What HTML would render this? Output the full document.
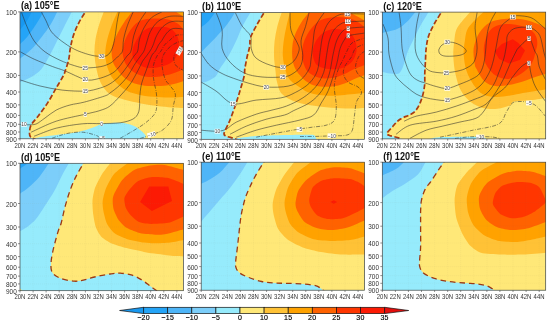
<!DOCTYPE html>
<html lang="en"><head><meta charset="utf-8"><title>Latitude-pressure cross sections</title>
<style>
html,body{margin:0;padding:0;background:#fff;}
body{width:550px;height:324px;overflow:hidden;}
svg{display:block;font-family:"Liberation Sans","DejaVu Sans",sans-serif;fill:#333;}
</style></head><body>
<svg width="550" height="324" viewBox="0 0 550 324">
<rect width="550" height="324" fill="#fff"/>
<clipPath id="cp0"><rect x="20" y="11.9" width="163.4" height="126.9"/></clipPath>
<g clip-path="url(#cp0)">
<rect x="19" y="10.9" width="165.4" height="128.9" fill="#96ebfc"/>
<path d="M74.3 6.9C73.9 7.8 73.3 8.9 71.6 12.2C69.9 15.5 66.7 21.6 64.3 26.4C61.9 31.2 59.4 36.1 57 41C54.6 45.9 52.3 50.8 49.7 55.5C47.1 60.2 44.3 65.6 41.5 69C38.7 72.4 35.8 74.2 33 76C30.2 77.8 27.1 79 25 80C22.9 81 22.1 81.3 20.4 82C18.7 82.7 15.8 84 14.9 84.4L8 84.4L8 -0.1L71.6 -0.1Z" fill="#7ccefa"/>
<path d="M59.8 6.9C59.3 7.8 58.5 9.2 57 12.2C55.5 15.2 53.2 20.4 50.6 24.6C48 28.8 44.7 33.2 41.5 37.3C38.3 41.4 35 45.7 31.5 49.2C28 52.7 23.1 56.1 20.5 58.3C17.9 60.5 16.6 61.5 15.9 62.1L8 62.1L8 -0.1L57 -0.1Z" fill="#4eb5f8"/>
<path d="M46.3 7C45.8 7.9 45 9.3 43.3 12.2C41.6 15.1 38.7 20.4 36 24.6C33.3 28.8 29.5 34.1 26.9 37.3C24.3 40.5 22.3 41.9 20.5 43.7C18.7 45.5 17 47.2 16.3 47.9L8 47.9L8 -0.1L43.3 -0.1Z" fill="#24a4f7"/>
<path d="M34.3 6.9C33.8 7.8 32.7 9.9 31.5 12.2C30.3 14.5 28.7 18.1 26.9 20.9C25.1 23.7 22.2 26.9 20.5 29.1C18.8 31.3 17.4 33 16.8 33.8L8 33.8L8 -0.1L31.5 -0.1Z" fill="#1898f0"/>
<path d="M88.3 7.1C87.8 7.9 86.8 9.6 85.2 12.2C83.6 14.8 80.8 18.9 78.8 22.8C76.8 26.7 74.8 31.2 73.4 35.5C72 39.8 71.1 44.3 70.3 48.3C69.5 52.2 69.6 55.4 68.8 59.2C68 63 66.1 68.2 65.2 71C64.3 73.8 64.7 73.2 63.2 76C61.7 78.8 58.7 83.7 56.2 88C53.7 92.3 51.1 97.4 48.1 102.1C45.1 106.8 41 112.3 38.1 116.2C35.2 120.1 32.4 122.4 31 125.2C29.6 128 29.6 131.3 29.5 133.2C29.4 135.1 29.9 136 30.5 136.8C31.1 137.6 30.4 138.3 33 138.2C35.6 138.1 41.5 136.9 46 136.3C50.5 135.7 54.6 135.3 60 134.6C65.4 133.9 73 132.9 78.2 131.9C83.4 130.9 87 129.6 91 128.3C95 127 97.1 125.1 101.9 124.2C106.8 123.3 114.9 122.6 120.1 122.8C125.3 123 129.6 124.3 132.9 125.5C136.2 126.7 138 128.4 140.1 130.1C142.2 131.8 144.9 134.1 145.6 135.5C146.3 136.9 144.9 136.9 144.2 138.3C143.5 139.7 142 142.8 141.5 143.7L141.5 150.8L195.4 150.8L195.4 -0.1L85.2 -0.1Z" fill="#ffe878"/>
<path d="M105.7 6.4C105.4 7.3 104.8 8.9 103.7 12C102.6 15.1 100.5 20.2 99.1 24.8C97.7 29.4 96.3 34.4 95.5 39.3C94.7 44.2 94.3 49.1 94.5 54C94.7 58.9 95.3 63.9 96.4 68.8C97.5 73.7 98.6 79 100.9 83.3C103.2 87.5 106 91.6 110 94.3C114 97 119.4 98.2 124.6 99.7C129.8 101.2 135.5 102.3 141 103.4C146.5 104.5 152.2 105.4 157.4 106.1C162.6 106.8 167.6 107.2 172 107.5C176.4 107.8 180.8 107.9 183.8 108C186.8 108.1 188.8 108.2 189.8 108.3L195.4 108.3L195.4 -0.1L103.7 -0.1Z" fill="#ffc236"/>
<path d="M119.6 6.5C119.2 7.4 118.6 8.9 117.3 12C116 15.1 113.6 20.2 111.9 24.8C110.2 29.4 108.4 34.6 107.3 39.3C106.2 44 105.3 48.4 105.3 53C105.3 57.6 105.9 62.5 107.3 66.9C108.7 71.4 110.5 75.8 113.7 79.7C116.9 83.7 121.9 88 126.4 90.6C131 93.2 135.8 94.1 141 95.2C146.2 96.3 152.2 96.6 157.4 97C162.6 97.4 167.6 97.5 172 97.5C176.4 97.5 180.8 97.1 183.8 97C186.8 96.9 188.8 96.8 189.8 96.7L195.4 96.7L195.4 -0.1L117.3 -0.1Z" fill="#ffa200"/>
<path d="M135.5 7.2C134.9 8 133.9 9.4 131.9 12C129.9 14.6 126.3 18.9 123.7 22.9C121.1 26.8 118.4 31.5 116.4 35.7C114.4 40 112.6 44.4 111.9 48.4C111.2 52.4 111.9 56.9 112.5 60C113.1 63.1 113.5 64 115.5 67C117.5 70 120.9 75 124.6 77.9C128.2 80.8 132.8 82.8 137.4 84.2C142 85.6 147.1 85.9 151.9 86.1C156.8 86.3 162.5 85.9 166.5 85.5C170.5 85.1 173.1 84.2 176 83.5C178.9 82.8 181.5 81.7 183.8 81C186.1 80.3 188.6 79.5 189.5 79.2L195.4 79.2L195.4 -0.1L131.9 -0.1Z" fill="#ff6200"/>
<polygon points="175.5,2 176.5,12.3 180.5,14.8 184.5,17.2 196,18 196,2" fill="#ffa200"/>
<path d="M188 34.3C187.3 33.6 185.5 31.8 183.8 30C182.1 28.2 180.2 25.4 177.6 23.6C175 21.8 172 20.2 168 19.4C164 18.5 158.2 18.3 153.6 18.5C149 18.7 144 19.2 140.4 20.8C136.8 22.4 134.4 25.1 132 28C129.6 30.9 127.5 34.8 126 38C124.5 41.2 123.7 44.2 123.2 47C122.7 49.8 122.3 51.5 122.8 54.5C123.3 57.5 124.3 62 126.4 65.1C128.5 68.2 131.8 71.3 135.5 73.3C139.2 75.3 143.7 76.5 148.3 76.9C152.9 77.4 158.4 76.7 162.9 76C167.4 75.3 172.1 73.7 175.6 72.5C179.1 71.3 181.5 70 183.8 69C186.1 68 188.4 67 189.3 66.6L195.4 66.6L195.4 24Z" fill="#ff3600"/>
<path d="M159.5 26.8C156.4 27 151 27.3 148 28.3C145 29.3 143.4 31.1 141.5 33C139.6 35 137.9 37.5 136.5 40C135.1 42.5 133.6 45.2 133 48C132.4 50.8 132.1 54.5 132.8 57C133.5 59.5 135.1 61.5 137.4 63.3C139.7 65.1 142.9 67.2 146.5 67.8C150.1 68.4 155.3 67.7 159.2 66.9C163.1 66.2 167.3 65 170.1 63.3C172.9 61.6 174.6 59.5 176 57C177.4 54.5 178.2 51.2 178.5 48C178.8 44.8 178.9 40.9 178 38C177.1 35.1 174.9 32.3 173 30.5C171.1 28.7 168.8 27.9 166.5 27.3C164.2 26.7 162.6 26.6 159.5 26.8Z" fill="#fc1a04"/>
<path d="M33.1 11.9V138.8M46.1 11.9V138.8M59.2 11.9V138.8M72.3 11.9V138.8M85.4 11.9V138.8M98.4 11.9V138.8M111.5 11.9V138.8M124.6 11.9V138.8M137.6 11.9V138.8M150.7 11.9V138.8M163.8 11.9V138.8M176.9 11.9V138.8M20 51.9H183.4M20 75.4H183.4M20 92H183.4M20 104.9H183.4M20 115.4H183.4M20 124.3H183.4M20 132H183.4" stroke="#8a8a6a" stroke-opacity=".13" stroke-width=".5" fill="none" stroke-dasharray="1 1"/>
<path d="M41.5 12.2C42.3 13.6 44.4 17.6 46.1 20.9C47.8 24.2 48.9 28.5 51.5 31.9C54.1 35.2 57.7 38.1 61.5 41C65.3 43.9 69.7 46.9 74.3 49.2C78.9 51.5 84.7 53.4 88.9 54.6C93.2 55.8 96.8 56.2 99.8 56.4C102.8 56.5 105 56.7 107 55.5C109 54.3 110.7 52.1 112 49C113.3 45.9 114.2 41.4 115 37C115.8 32.6 116.3 26.9 117 22.7C117.7 18.5 118.8 13.8 119.2 12" fill="none" stroke="#2a2a2a" stroke-width=".55"/>
<path d="M21.5 12.2C22.4 14.6 24.8 21.6 26.9 26.4C29 31.2 31.2 36.8 34.2 41C37.2 45.2 40.9 48.7 45.1 51.9C49.4 55.1 54.8 57.8 59.7 60.1C64.6 62.4 70 64.3 74.3 65.6C78.5 66.9 80.8 67.7 85.2 67.9C89.6 68.1 96.8 67.3 100.9 66.6C105 65.8 107.7 64.5 110 63.4C112.3 62.2 113.2 60.9 114.6 59.7C116 58.5 117.2 57.5 118.5 56C119.8 54.5 121.7 53.8 122.5 51C123.3 48.2 122.8 43.6 123.6 39.3C124.4 35 125.9 29.9 127.5 25.3C129.1 20.8 132.2 14.2 133.2 12" fill="none" stroke="#2a2a2a" stroke-width=".55"/>
<path d="M20.5 51.9C22.8 53.1 28.9 56.8 34.2 59.2C39.5 61.6 47.2 64.5 52.4 66.5C57.6 68.5 59.7 68.8 65.2 71C70.7 73.2 80 78.3 85.3 79.6C90.6 80.9 92.9 79.8 97 79C101.1 78.2 106.6 76.2 110 74.5C113.4 72.8 115.2 71.2 117.4 69C119.6 66.8 121.4 63.8 123 61.6C124.6 59.4 125.7 57.8 127 56C128.3 54.2 129.9 54.4 131 51C132.1 47.6 132.5 40.2 133.8 35.5C135.1 30.8 136.9 26.6 138.9 22.7C140.9 18.8 144.7 13.8 145.9 12" fill="none" stroke="#2a2a2a" stroke-width=".55"/>
<path d="M20.4 80C23.7 81 33.1 84.3 40.1 86C47.1 87.7 54.7 89.2 62.2 90.1C69.7 90.9 79 91.4 85.3 91.1C91.6 90.8 96.2 89.2 100.3 88C104.4 86.8 106.8 85.7 110 83.8C113.2 81.9 116.5 79.2 119.3 76.4C122.1 73.6 124.2 70.5 126.7 67.1C129.2 63.7 132.2 58.7 134 56C135.8 53.3 136.8 53.8 137.7 51C138.6 48.2 138.4 43.2 139.5 39.3C140.6 35.4 142 31.4 144 27.8C146 24.2 148.6 20.2 151.6 17.6C154.6 15 160.1 12.9 161.8 12" fill="none" stroke="#2a2a2a" stroke-width=".55"/>
<path d="M20.4 124.5C21.7 124.5 25.4 124.9 28 124.8C30.6 124.7 33.3 125.1 36.1 124C38.9 122.9 41.6 120.3 45 118C48.4 115.7 52 112.3 56.2 110.1C60.4 107.9 65.3 106.3 70 105C74.7 103.7 78.6 103.6 84.3 102.1C90 100.6 100.1 97.6 104.4 96.1C108.7 94.6 107.5 94.8 110 93C112.5 91.2 116.4 88.4 119.3 85.6C122.2 82.8 125.1 79.8 127.6 76.4C130.1 73 131.9 68.7 134.1 65.3C136.2 61.9 138.8 58.4 140.5 56C142.2 53.6 143 53.1 144 51C145 48.9 145.4 46.3 146.5 43.1C147.6 39.9 148.5 35.2 150.4 31.6C152.3 28 154.8 24 158 21.5C161.2 19 165.2 17.2 169.5 16.4C173.8 15.5 181.4 16.4 183.8 16.4" fill="none" stroke="#2a2a2a" stroke-width=".55"/>
<path d="M31.1 132.2C35.3 130.4 47.2 124.2 56.2 121.2C65.2 118.2 78 116 85.3 114.2C92.6 112.4 95.9 111.9 100 110.5C104.1 109.1 106.5 108.6 110 106C113.5 103.4 117.7 98.6 121.1 94.9C124.5 91.2 127.6 87.8 130.4 83.8C133.2 79.8 135.8 74.5 137.8 70.8C139.8 67.1 141 64.1 142.4 61.6C143.8 59.1 145.2 57.8 146.5 56C147.8 54.2 148.9 52.7 150 51C151.1 49.3 151.8 48.2 152.9 45.6C154 43 155 38.7 156.7 35.5C158.4 32.3 160.5 28.8 163.1 26.5C165.7 24.2 168.6 22.3 172 21.5C175.4 20.7 181.8 21.5 183.8 21.5" fill="none" stroke="#2a2a2a" stroke-width=".55"/>
<path d="M34.1 136.2C37.8 134.9 48.2 130.3 56.2 128.2C64.2 126.1 74.8 124.6 82.3 123.8C89.8 123 95 123.8 101.3 123.6C107.6 123.4 114.8 123.5 120.1 122.8C125.4 122 129.9 120.7 132.9 119.1C135.9 117.5 137.2 115.3 138.3 113C139.4 110.7 139.4 107.4 139.6 105C139.8 102.6 139.3 102.1 139.6 98.6C139.9 95.1 140.4 88.4 141.5 83.8C142.6 79.2 144.4 75.4 146.1 70.8C147.8 66.2 149.9 59.3 151.5 56C153.1 52.7 154.3 52.8 155.5 51C156.7 49.2 157.4 46.8 158.5 45C159.6 43.2 160.4 42.5 161.8 40.5C163.2 38.5 165 34.9 166.9 32.9C168.8 30.9 170.5 29.1 173.3 28.5C176.1 27.9 182.1 29 183.8 29.1" fill="none" stroke="#2a2a2a" stroke-width=".55"/>
<path d="M120.1 138.3C122.2 137.1 128.7 133.6 132.9 131C137.2 128.4 142 125.7 145.6 122.8C149.2 119.9 152.8 116.7 154.7 113.7C156.6 110.7 156.5 108.5 156.8 105C157.1 101.5 156.9 97.5 156.3 93C155.8 88.5 154 82.8 153.5 78.2C153 73.6 152.9 69 153.5 65.3C154.1 61.6 155.8 58.4 157 56C158.2 53.6 159.8 52.8 161 51C162.2 49.2 163.1 46.8 164.5 45C165.9 43.2 167.6 42.1 169.5 40.5C171.4 38.9 173.4 36.5 175.8 35.5C178.2 34.5 182.5 34.9 183.8 34.8" fill="none" stroke="#2a2a2a" stroke-width=".55" stroke-dasharray="4 1.4 .8 1.4"/>
<path d="M52 138.3C53.3 137.8 56.9 136.4 60 135.5C63.1 134.6 67 133.3 70.9 132.8C74.9 132.3 79.5 131.9 83.7 132.3C88 132.8 93.7 134.5 96.4 135.5C99.1 136.5 99.4 137.8 100 138.3" fill="none" stroke="#2a2a2a" stroke-width=".55" stroke-dasharray="4 1.4 .8 1.4"/>
<path d="M140 138.5C141.7 137.9 146.5 136.6 150.2 135.2C153.9 133.8 158.8 132.7 162.3 130.2C165.8 127.7 169.5 124.2 171.3 120.2C173.1 116.2 172.6 110.4 173.3 106.1C174 101.8 175.9 97.5 175.3 94.1C174.8 90.7 171.6 87.9 170 85.6C168.4 83.3 166.8 82.6 165.6 80.1C164.4 77.6 163.4 73.9 162.8 70.8C162.2 67.7 161.9 64.1 161.9 61.6C161.9 59.1 162.3 57.8 163 56C163.7 54.2 164.7 52.7 166 51C167.3 49.3 169.2 47.4 171 46C172.8 44.6 175 43.4 177.1 42.5C179.2 41.6 182.7 40.8 183.8 40.5" fill="none" stroke="#2a2a2a" stroke-width=".55" stroke-dasharray="4 1.4 .8 1.4"/>
<path d="M183.8 46C183 46.5 180.6 47.3 179 49C177.4 50.7 174.6 53.3 174 56C173.4 58.7 174 62.7 175.6 65.1C177.2 67.5 182.4 69.7 183.8 70.6" fill="none" stroke="#2a2a2a" stroke-width=".55" stroke-dasharray="4 1.4 .8 1.4"/>
<path d="M88.3 7.1C87.8 7.9 86.8 9.6 85.2 12.2C83.6 14.8 80.8 18.9 78.8 22.8C76.8 26.7 74.8 31.2 73.4 35.5C72 39.8 71.1 44.3 70.3 48.3C69.5 52.2 69.6 55.4 68.8 59.2C68 63 66.1 68.2 65.2 71C64.3 73.8 64.7 73.2 63.2 76C61.7 78.8 58.7 83.7 56.2 88C53.7 92.3 51.1 97.4 48.1 102.1C45.1 106.8 41 112.3 38.1 116.2C35.2 120.1 32.4 122.4 31 125.2C29.6 128 29.6 131.3 29.5 133.2C29.4 135.1 29.9 136 30.5 136.8C31.1 137.6 31.7 137.5 33 138.2C34.3 138.9 37.4 140.6 38.2 141.1" fill="none" stroke="#a83c12" stroke-width="1.7" stroke-dasharray="5 2.4"/>
<g><rect x="98.7" y="54" width="5.8" height="4.8" fill="#fff" fill-opacity=".92"/><text x="101.6" y="58.1" font-size="4.8" text-anchor="middle" fill="#444">30</text></g>
<g><rect x="82.3" y="65.5" width="5.8" height="4.8" fill="#fff" fill-opacity=".92"/><text x="85.2" y="69.7" font-size="4.8" text-anchor="middle" fill="#444">25</text></g>
<g><rect x="82.4" y="77.2" width="5.8" height="4.8" fill="#fff" fill-opacity=".92"/><text x="85.3" y="81.3" font-size="4.8" text-anchor="middle" fill="#444">20</text></g>
<g><rect x="82.4" y="88.7" width="5.8" height="4.8" fill="#fff" fill-opacity=".92"/><text x="85.3" y="92.8" font-size="4.8" text-anchor="middle" fill="#444">15</text></g>
<g><rect x="83.7" y="112" width="3.2" height="4.8" fill="#fff" fill-opacity=".92"/><text x="85.3" y="116.2" font-size="4.8" text-anchor="middle" fill="#444">5</text></g>
<g><rect x="100" y="121.3" width="3.2" height="4.8" fill="#fff" fill-opacity=".92"/><text x="101.6" y="125.5" font-size="4.8" text-anchor="middle" fill="#444">0</text></g>
<g><rect x="21.1" y="121.9" width="5.8" height="4.8" fill="#fff" fill-opacity=".92"/><text x="24" y="126" font-size="4.8" text-anchor="middle" fill="#444">10</text></g>
<g><rect x="99.4" y="136.2" width="5.8" height="4.8" fill="#fff" fill-opacity=".92"/><text x="102.3" y="140.3" font-size="4.8" text-anchor="middle" fill="#444">−5</text></g>
<g transform="rotate(-18 151.6 134.6)"><rect x="147.4" y="132.2" width="8.3" height="4.8" fill="#fff" fill-opacity=".92"/><text x="151.6" y="136.3" font-size="4.8" text-anchor="middle" fill="#444">−10</text></g>
<g transform="rotate(-60 179.6 50.8)"><rect x="175.4" y="48.4" width="8.3" height="4.8" fill="#fff" fill-opacity=".92"/><text x="179.6" y="52.5" font-size="4.8" text-anchor="middle" fill="#444">−15</text></g>
</g>
<rect x="20" y="11.9" width="163.4" height="126.9" fill="none" stroke="#444" stroke-width=".7"/>
<text x="6" y="14.9" font-size="6.9" textLength="10.7" lengthAdjust="spacingAndGlyphs">100</text>
<text x="6" y="54.9" font-size="6.9" textLength="10.7" lengthAdjust="spacingAndGlyphs">200</text>
<text x="6" y="78.4" font-size="6.9" textLength="10.7" lengthAdjust="spacingAndGlyphs">300</text>
<text x="6" y="95" font-size="6.9" textLength="10.7" lengthAdjust="spacingAndGlyphs">400</text>
<text x="6" y="107.9" font-size="6.9" textLength="10.7" lengthAdjust="spacingAndGlyphs">500</text>
<text x="6" y="118.4" font-size="6.9" textLength="10.7" lengthAdjust="spacingAndGlyphs">600</text>
<text x="6" y="127.3" font-size="6.9" textLength="10.7" lengthAdjust="spacingAndGlyphs">700</text>
<text x="6" y="135" font-size="6.9" textLength="10.7" lengthAdjust="spacingAndGlyphs">800</text>
<text x="6" y="142" font-size="6.9" textLength="10.7" lengthAdjust="spacingAndGlyphs">900</text>
<text x="14.4" y="147.5" font-size="6.9" textLength="10.9" lengthAdjust="spacingAndGlyphs">20N</text>
<text x="27.5" y="147.5" font-size="6.9" textLength="10.9" lengthAdjust="spacingAndGlyphs">22N</text>
<text x="40.6" y="147.5" font-size="6.9" textLength="10.9" lengthAdjust="spacingAndGlyphs">24N</text>
<text x="53.7" y="147.5" font-size="6.9" textLength="10.9" lengthAdjust="spacingAndGlyphs">26N</text>
<text x="66.7" y="147.5" font-size="6.9" textLength="10.9" lengthAdjust="spacingAndGlyphs">28N</text>
<text x="79.8" y="147.5" font-size="6.9" textLength="10.9" lengthAdjust="spacingAndGlyphs">30N</text>
<text x="92.9" y="147.5" font-size="6.9" textLength="10.9" lengthAdjust="spacingAndGlyphs">32N</text>
<text x="106" y="147.5" font-size="6.9" textLength="10.9" lengthAdjust="spacingAndGlyphs">34N</text>
<text x="119" y="147.5" font-size="6.9" textLength="10.9" lengthAdjust="spacingAndGlyphs">36N</text>
<text x="132.1" y="147.5" font-size="6.9" textLength="10.9" lengthAdjust="spacingAndGlyphs">38N</text>
<text x="145.2" y="147.5" font-size="6.9" textLength="10.9" lengthAdjust="spacingAndGlyphs">40N</text>
<text x="158.2" y="147.5" font-size="6.9" textLength="10.9" lengthAdjust="spacingAndGlyphs">42N</text>
<text x="171.3" y="147.5" font-size="6.9" textLength="10.9" lengthAdjust="spacingAndGlyphs">44N</text>
<path d="M18 11.9H20M18 51.9H20M18 75.4H20M18 92H20M18 104.9H20M18 115.4H20M18 124.3H20M18 132H20M18 138.8H20M20 138.8V140.6M33.1 138.8V140.6M46.1 138.8V140.6M59.2 138.8V140.6M72.3 138.8V140.6M85.4 138.8V140.6M98.4 138.8V140.6M111.5 138.8V140.6M124.6 138.8V140.6M137.6 138.8V140.6M150.7 138.8V140.6M163.8 138.8V140.6M176.9 138.8V140.6" stroke="#444" stroke-width=".6" fill="none"/>
<text x="20.9" y="9.4" font-size="10.1" font-weight="bold" fill="#111" textLength="38.7" lengthAdjust="spacingAndGlyphs">(a) 105°E</text>
<clipPath id="cp1"><rect x="201.2" y="12.4" width="163.4" height="126.9"/></clipPath>
<g clip-path="url(#cp1)">
<rect x="200.2" y="11.4" width="165.4" height="128.9" fill="#96ebfc"/>
<path d="M253.6 7C253.1 7.9 252.5 9 250.6 12.2C248.7 15.4 244.8 21.6 242.4 26.4C240 31.2 238.4 36.1 236.1 41C233.8 45.9 231.5 50.8 228.8 55.5C226.1 60.2 221.8 65.6 219.7 69C217.6 72.4 217.9 74 216 76C214.1 78 210.5 79.8 208 81C205.5 82.2 203.1 82.4 201 83C198.9 83.6 196.2 84.4 195.2 84.6L189.2 84.6L189.2 0.4L250.6 0.4Z" fill="#7ccefa"/>
<path d="M238.5 7.2C238 8 237.1 9.3 235.2 12.2C233.3 15.1 230.2 20.4 227 24.6C223.8 28.8 219.7 33.3 216 37.3C212.3 41.2 207.6 45.7 205.1 48.3C202.6 50.9 202.4 51.3 201.1 52.8C199.8 54.3 197.8 56.5 197.1 57.3L189.2 57.3L189.2 0.4L235.2 0.4Z" fill="#4eb5f8"/>
<path d="M218.6 7.3C218 8.2 216.7 9.9 215.1 12.2C213.5 14.5 211.1 18.4 208.8 20.9C206.5 23.4 203.2 25.6 201.1 27.3C199 29 197.3 30.5 196.5 31.1L189.2 31.1L189.2 0.4L215.1 0.4Z" fill="#24a4f7"/>
<path d="M267.3 7C266.8 7.9 266 9.3 264.3 12.2C262.6 15.1 259.3 20.4 257 24.6C254.7 28.8 251.8 33.7 250.6 37.3C249.4 40.9 250.3 43 249.7 46.4C249.1 49.8 247.8 53.6 247 57.4C246.2 61.2 245.3 65.9 244.8 69C244.3 72.1 245 72.5 244.2 76C243.4 79.5 241.7 85 240.2 90C238.7 95 237 100.6 235.2 106C233.3 111.4 230.9 117.7 229.1 122.2C227.2 126.7 224.6 130.9 224.1 133.2C223.6 135.5 224.5 135.2 226 136C227.5 136.8 228 138.2 233 138.2C238 138.2 248.8 136.5 256 136C263.2 135.5 267.7 135.5 276 135.3C284.3 135.1 299.7 134.8 306 134.8C312.3 134.8 312.3 134.6 314 135.2C315.7 135.8 315.1 136.9 316 138.3C316.9 139.7 318.7 142.5 319.3 143.3L319.3 151.3L376.6 151.3L376.6 0.4L264.3 0.4Z" fill="#ffe878"/>
<path d="M283.6 6.3C283.3 7.2 282.8 8.6 281.8 12C280.8 15.4 278.5 21.8 277.3 26.6C276.1 31.5 275.2 36.2 274.6 41.1C274.1 46 273.9 50.7 274 55.7C274.1 60.7 275 66.6 275.5 71C276 75.4 275.9 78.2 277 82C278.1 85.8 278.8 90.7 282 94C285.2 97.3 290.3 100 296 102C301.7 104 309.3 105 316 106C322.7 107 329.7 107.6 336 108C342.3 108.4 349.2 108.5 354 108.5C358.8 108.5 362.2 108.1 365 108C367.8 107.9 370 107.8 371 107.7L376.6 107.7L376.6 0.4L281.8 0.4Z" fill="#ffc236"/>
<path d="M291.4 6.2C291.2 7.1 290.8 8.6 290 12C289.2 15.4 287.4 21.8 286.4 26.6C285.3 31.5 284.3 36.2 283.7 41.1C283.1 46 282.5 50.8 282.8 55.7C283.1 60.6 284.3 66.5 285.5 70.6C286.7 74.6 287.6 77.2 290 80C292.4 82.8 296.6 85.2 300 87.4C303.4 89.6 305.9 91.7 310.2 93.1C314.4 94.5 320.8 95.2 325.5 95.6C330.2 96 334 95.7 338.2 95.5C342.4 95.3 346.4 94.7 350.9 94.3C355.4 93.9 361.7 93.3 365 93C368.3 92.7 370 92.5 371 92.4L376.6 92.4L376.6 0.4L290 0.4Z" fill="#ffa200"/>
<path d="M312.8 7.2C312.2 8 311.2 9.4 309.2 12C307.2 14.6 303.4 18.9 301 22.9C298.6 26.8 296.1 31.5 294.6 35.7C293.1 40 292.5 44.1 292.2 48.4C291.9 52.6 292.2 57.6 292.8 61.2C293.4 64.8 294.8 67.7 296 70C297.2 72.3 298.3 73.4 300 75.3C301.7 77.2 303.6 79.8 306.4 81.6C309.1 83.4 312.3 85.3 316.5 86.1C320.7 86.9 327.1 86.9 331.8 86.5C336.5 86.1 340.2 85 344.5 83.5C348.8 82 353.9 79.2 357.3 77.8C360.7 76.4 362.8 75.8 365 75C367.2 74.2 369.7 73.3 370.6 72.9L376.6 72.9L376.6 0.4L309.2 0.4Z" fill="#ff6200"/>
<polygon points="348.5,2 350.2,12.8 358.4,16.9 365.5,21 377,22 377,2" fill="#ffa200"/>
<path d="M369.8 31.1C369 30.5 367.1 29.1 365 27.5C362.9 25.9 360.1 23.1 357.1 21.5C354.1 19.9 350.7 18.5 346.9 17.8C343.1 17.1 338.4 16.9 334.2 17.2C330 17.5 325 18.2 321.5 19.8C318 21.4 315.4 24 313 26.5C310.6 29 308.7 31.9 307 35C305.3 38.1 303.9 41.5 303 45C302.1 48.5 302 53.2 301.9 55.7C301.8 58.2 301.6 57.4 302.5 60C303.4 62.6 304.8 68.5 307.6 71.5C310.4 74.5 315.1 76.7 319.1 77.8C323.1 78.9 327.6 78.7 331.8 78.1C336 77.5 340.7 75.5 344.5 74C348.3 72.5 351.3 70.3 354.7 68.8C358.1 67.3 362.3 66 365 65C367.7 64 369.7 63.3 370.6 62.9L376.6 62.9L376.6 21.5Z" fill="#ff3600"/>
<path d="M334.5 29C331.1 29.2 327.5 30.2 324.5 32C321.5 33.8 318.4 37 316.5 40C314.6 43 313.2 47 312.8 50.3C312.4 53.6 313 57.3 314 60C315 62.7 316 64.9 319 66.4C322 67.9 327.7 69 331.8 69.2C335.9 69.4 340.1 68.9 343.5 67.5C346.9 66.1 350.3 63.8 352.5 61C354.7 58.2 356 54.2 356.5 51C357 47.8 356.3 44.2 355.5 41.5C354.7 38.8 353.2 36.3 351.5 34.5C349.8 32.7 347.8 31.4 345 30.5C342.2 29.6 337.9 28.8 334.5 29Z" fill="#fc1a04"/>
<path d="M214.3 12.4V139.3M227.3 12.4V139.3M240.4 12.4V139.3M253.5 12.4V139.3M266.6 12.4V139.3M279.6 12.4V139.3M292.7 12.4V139.3M305.8 12.4V139.3M318.8 12.4V139.3M331.9 12.4V139.3M345 12.4V139.3M358.1 12.4V139.3M201.2 52.4H364.6M201.2 75.9H364.6M201.2 92.5H364.6M201.2 105.4H364.6M201.2 115.9H364.6M201.2 124.8H364.6M201.2 132.5H364.6" stroke="#8a8a6a" stroke-opacity=".13" stroke-width=".5" fill="none" stroke-dasharray="1 1"/>
<path d="M235.2 12.4C236.4 14.7 239.6 22.2 242.2 26.1C244.8 30.1 249.1 32.4 250.6 36.1C252.1 39.8 250.3 44.5 251.2 48.2C252.1 51.9 253 55.4 256.2 58.2C259.4 61 265.8 63.7 270.3 65.2C274.8 66.7 279.1 67.9 283 67.2C286.9 66.5 291 64 293.7 61.2C296.4 58.4 298.5 53.3 299.1 50.3C299.7 47.3 298.7 46.4 297.3 43C295.9 39.6 292.2 35.4 291 30.2C289.8 25 290.2 15 290 12" fill="none" stroke="#2a2a2a" stroke-width=".55"/>
<path d="M216.1 12.4C217.1 15.4 221.1 24.1 222.1 30.1C223.1 36.1 220.8 42.9 222.1 48.2C223.4 53.6 226.4 58.1 230.1 62.2C233.8 66.3 238.9 70.5 244.2 73C249.5 75.5 255.6 76.3 262 77C268.4 77.7 277.8 77.4 282.8 76.9C287.8 76.4 289 75.9 291.9 74.2C294.8 72.5 298.3 70 300.1 66.9C301.9 63.8 302.7 60 302.8 55.7C302.9 51.4 300.6 46 301 41.1C301.4 36.2 304.1 31.5 305.5 26.6C306.9 21.8 308.6 14.4 309.2 12" fill="none" stroke="#2a2a2a" stroke-width=".55"/>
<path d="M201 53C201.6 53.9 203.2 56.7 204.5 58.5C205.8 60.3 206.8 62.2 208.5 64C210.2 65.8 212.8 67.9 215 69.5C217.2 71.1 219.5 72.2 222 73.5C224.5 74.8 225.7 75.4 230 77C234.3 78.6 241.9 81.3 248 83C254.1 84.7 259.6 86.5 266.3 87C273 87.5 282.4 87.3 288.2 86.1C294 84.9 297.5 82.6 301 79.7C304.5 76.8 307.5 72.2 309.2 68.8C310.9 65.4 310.4 63.4 311 59.4C311.6 55.4 312.1 50.3 312.8 44.8C313.6 39.3 313.5 32.1 315.5 26.6C317.5 21.1 323.1 14.4 324.6 12" fill="none" stroke="#2a2a2a" stroke-width=".55"/>
<path d="M201 82C203.5 83.5 210.8 87.5 216.1 91.1C221.4 94.7 226.4 102.2 233.1 103.7C239.8 105.2 248.2 101.1 256.2 100.1C264.2 99.1 274.3 99.2 280.9 97.9C287.4 96.6 290.8 94.8 295.5 92.4C300.2 90 305.6 86.9 309.2 83.3C312.8 79.7 315.6 75.8 317.4 70.6C319.2 65.4 319.2 57.9 320.1 52.1C321 46.3 321.4 40.6 322.8 35.7C324.2 30.8 325.9 26.2 328.3 22.9C330.7 19.5 334.4 17.1 337.4 15.6C340.4 14.1 341.9 14.1 346.5 13.8C351.1 13.5 361.9 14 365 14" fill="none" stroke="#2a2a2a" stroke-width=".55"/>
<path d="M201 130.2C203.7 130.4 212.9 131.4 217.1 131.2C221.3 131 222.9 130.7 226.1 129.2C229.3 127.7 231.2 124.7 236.2 122.2C241.2 119.7 250.6 116.1 256.2 114.2C261.8 112.3 265 111.9 270 110.6C275 109.2 280.9 108.2 286.4 106.1C291.9 104 297.9 101.1 302.8 97.9C307.7 94.7 312 91.2 315.5 87C319 82.8 321.9 77.6 323.7 72.4C325.5 67.2 325.6 60.9 326.5 55.7C327.4 50.5 328 45.4 329.2 41.1C330.4 36.9 331.8 33.1 333.8 30.2C335.8 27.3 338.6 25.2 341 23.8C343.4 22.4 344.3 22.5 348.3 22C352.3 21.5 362.2 21.2 365 21" fill="none" stroke="#2a2a2a" stroke-width=".55"/>
<path d="M230.1 134.2C232.8 132.9 240.2 128.7 246.2 126.2C252.2 123.7 259.9 121.1 266.3 119.2C272.7 117.3 280 116.4 284.6 115C289.2 113.6 289.4 112.7 293.7 110.6C297.9 108.5 305.4 105.7 310.1 102.4C314.8 99.1 318.7 95.3 321.9 90.6C325.1 85.9 327.4 80 329.2 74.2C331 68.4 331.6 61.2 332.8 55.7C334 50.2 335 45.1 336.5 41.1C338 37.1 339.9 34.1 341.9 32C343.9 29.9 344.4 29.2 348.3 28.4C352.2 27.6 362.2 27.2 365 27" fill="none" stroke="#2a2a2a" stroke-width=".55"/>
<path d="M236.2 137.2C239.5 136 249.5 132.2 256.2 130.2C262.9 128.2 269 126.9 276.3 125.2C283.6 123.5 293.8 121.7 300 120C306.2 118.3 310.2 117.8 313.7 115C317.2 112.2 318.6 107.5 321 103.4C323.4 99.3 326.2 95.5 328.3 90.6C330.4 85.7 332.3 79.1 333.8 74.2C335.3 69.3 336.3 65.5 337.4 61.2C338.4 56.9 338.9 52 340.1 48.4C341.3 44.8 343.3 41.4 344.7 39.3C346.1 37.2 344.9 36.8 348.3 35.7C351.7 34.7 362.2 33.5 365 33" fill="none" stroke="#2a2a2a" stroke-width=".55"/>
<path d="M256.2 137.2C259.6 136.5 269.3 134.5 276.3 133.2C283.3 131.9 292.4 130.2 298.4 129.2C304.4 128.2 307.6 127.9 312.2 127.2C316.8 126.5 322.5 126.4 326.2 125.2C329.9 124 332.6 123.4 334.3 120.2C336 117 336.3 111.8 336.3 106.1C336.3 100.4 334 92 334.3 86C334.6 80 336.6 74.3 338 70C339.4 65.7 341.5 63 342.9 60C344.3 57 345 54.9 346.5 52.1C348 49.3 348.9 45.4 352 43C355.1 40.6 362.8 38.8 365 38" fill="none" stroke="#2a2a2a" stroke-width=".55" stroke-dasharray="4 1.4 .8 1.4"/>
<path d="M300 136.5C302.7 136.5 310.8 136.5 316 136.4C321.2 136.3 325.9 136 331 135.8C336.1 135.6 342.8 136.1 346.3 135.2C349.9 134.3 351 133.4 352.3 130.2C353.6 127 353.7 120.9 354.4 116.2C355.1 111.5 355.2 106 356.4 102.1C357.6 98.2 361.2 95.5 361.5 93C361.8 90.5 360.2 88.8 358 87C355.8 85.2 350.4 84.2 348 82C345.6 79.8 344 76.7 343.5 74C343 71.3 343.7 68.8 345 66C346.3 63.2 349.3 60.4 351.1 57.5C352.9 54.6 353.3 50.6 355.6 48.4C357.9 46.1 363.4 44.7 365 44" fill="none" stroke="#2a2a2a" stroke-width=".55" stroke-dasharray="4 1.4 .8 1.4"/>
<path d="M365 51C364.1 51.8 360.9 53.2 359.3 55.7C357.7 58.2 355.8 63 355.6 66C355.4 69 356.4 71.8 358 74C359.6 76.2 363.8 78.2 365 79" fill="none" stroke="#2a2a2a" stroke-width=".55" stroke-dasharray="4 1.4 .8 1.4"/>
<path d="M267.3 7C266.8 7.9 266 9.3 264.3 12.2C262.6 15.1 259.3 20.4 257 24.6C254.7 28.8 251.8 33.7 250.6 37.3C249.4 40.9 250.3 43 249.7 46.4C249.1 49.8 247.8 53.6 247 57.4C246.2 61.2 245.3 65.9 244.8 69C244.3 72.1 245 72.5 244.2 76C243.4 79.5 241.7 85 240.2 90C238.7 95 237 100.6 235.2 106C233.3 111.4 230.9 117.7 229.1 122.2C227.2 126.7 224.6 130.9 224.1 133.2C223.6 135.5 224.5 135.2 226 136C227.5 136.8 230.9 137.5 233 138.2C235.1 138.9 237.8 139.7 238.7 140" fill="none" stroke="#a83c12" stroke-width="1.7" stroke-dasharray="5 2.4"/>
<g><rect x="280.1" y="64.8" width="5.8" height="4.8" fill="#fff" fill-opacity=".92"/><text x="283" y="69" font-size="4.8" text-anchor="middle" fill="#444">30</text></g>
<g><rect x="279.9" y="74.5" width="5.8" height="4.8" fill="#fff" fill-opacity=".92"/><text x="282.8" y="78.7" font-size="4.8" text-anchor="middle" fill="#444">25</text></g>
<g><rect x="263.4" y="84.8" width="5.8" height="4.8" fill="#fff" fill-opacity=".92"/><text x="266.3" y="89" font-size="4.8" text-anchor="middle" fill="#444">20</text></g>
<g><rect x="230.1" y="101.3" width="5.8" height="4.8" fill="#fff" fill-opacity=".92"/><text x="233" y="105.5" font-size="4.8" text-anchor="middle" fill="#444">15</text></g>
<g><rect x="214.6" y="128.8" width="5.8" height="4.8" fill="#fff" fill-opacity=".92"/><text x="217.5" y="132.9" font-size="4.8" text-anchor="middle" fill="#444">10</text></g>
<g><rect x="296.6" y="127.1" width="5.8" height="4.8" fill="#fff" fill-opacity=".92"/><text x="299.5" y="131.2" font-size="4.8" text-anchor="middle" fill="#444">−5</text></g>
<g><rect x="327.6" y="133.4" width="8.3" height="4.8" fill="#fff" fill-opacity=".92"/><text x="331.8" y="137.6" font-size="4.8" text-anchor="middle" fill="#444">−10</text></g>
<g><rect x="344.6" y="11.6" width="5.8" height="4.8" fill="#fff" fill-opacity=".92"/><text x="347.5" y="15.8" font-size="4.8" text-anchor="middle" fill="#444">15</text></g>
<g><rect x="345.1" y="19.2" width="5.8" height="4.8" fill="#fff" fill-opacity=".92"/><text x="348" y="23.4" font-size="4.8" text-anchor="middle" fill="#444">10</text></g>
<g><rect x="346.7" y="26.2" width="3.2" height="4.8" fill="#fff" fill-opacity=".92"/><text x="348.3" y="30.4" font-size="4.8" text-anchor="middle" fill="#444">5</text></g>
<g><rect x="346.7" y="33.3" width="3.2" height="4.8" fill="#fff" fill-opacity=".92"/><text x="348.3" y="37.5" font-size="4.8" text-anchor="middle" fill="#444">0</text></g>
</g>
<rect x="201.2" y="12.4" width="163.4" height="126.9" fill="none" stroke="#444" stroke-width=".7"/>
<text x="187.2" y="15.4" font-size="6.9" textLength="10.7" lengthAdjust="spacingAndGlyphs">100</text>
<text x="187.2" y="55.4" font-size="6.9" textLength="10.7" lengthAdjust="spacingAndGlyphs">200</text>
<text x="187.2" y="78.9" font-size="6.9" textLength="10.7" lengthAdjust="spacingAndGlyphs">300</text>
<text x="187.2" y="95.5" font-size="6.9" textLength="10.7" lengthAdjust="spacingAndGlyphs">400</text>
<text x="187.2" y="108.4" font-size="6.9" textLength="10.7" lengthAdjust="spacingAndGlyphs">500</text>
<text x="187.2" y="118.9" font-size="6.9" textLength="10.7" lengthAdjust="spacingAndGlyphs">600</text>
<text x="187.2" y="127.8" font-size="6.9" textLength="10.7" lengthAdjust="spacingAndGlyphs">700</text>
<text x="187.2" y="135.5" font-size="6.9" textLength="10.7" lengthAdjust="spacingAndGlyphs">800</text>
<text x="187.2" y="142.5" font-size="6.9" textLength="10.7" lengthAdjust="spacingAndGlyphs">900</text>
<text x="195.7" y="148" font-size="6.9" textLength="10.9" lengthAdjust="spacingAndGlyphs">20N</text>
<text x="208.7" y="148" font-size="6.9" textLength="10.9" lengthAdjust="spacingAndGlyphs">22N</text>
<text x="221.8" y="148" font-size="6.9" textLength="10.9" lengthAdjust="spacingAndGlyphs">24N</text>
<text x="234.9" y="148" font-size="6.9" textLength="10.9" lengthAdjust="spacingAndGlyphs">26N</text>
<text x="247.9" y="148" font-size="6.9" textLength="10.9" lengthAdjust="spacingAndGlyphs">28N</text>
<text x="261" y="148" font-size="6.9" textLength="10.9" lengthAdjust="spacingAndGlyphs">30N</text>
<text x="274.1" y="148" font-size="6.9" textLength="10.9" lengthAdjust="spacingAndGlyphs">32N</text>
<text x="287.2" y="148" font-size="6.9" textLength="10.9" lengthAdjust="spacingAndGlyphs">34N</text>
<text x="300.2" y="148" font-size="6.9" textLength="10.9" lengthAdjust="spacingAndGlyphs">36N</text>
<text x="313.3" y="148" font-size="6.9" textLength="10.9" lengthAdjust="spacingAndGlyphs">38N</text>
<text x="326.4" y="148" font-size="6.9" textLength="10.9" lengthAdjust="spacingAndGlyphs">40N</text>
<text x="339.4" y="148" font-size="6.9" textLength="10.9" lengthAdjust="spacingAndGlyphs">42N</text>
<text x="352.5" y="148" font-size="6.9" textLength="10.9" lengthAdjust="spacingAndGlyphs">44N</text>
<path d="M199.2 12.4H201.2M199.2 52.4H201.2M199.2 75.9H201.2M199.2 92.5H201.2M199.2 105.4H201.2M199.2 115.9H201.2M199.2 124.8H201.2M199.2 132.5H201.2M199.2 139.3H201.2M201.2 139.3V141.1M214.3 139.3V141.1M227.3 139.3V141.1M240.4 139.3V141.1M253.5 139.3V141.1M266.6 139.3V141.1M279.6 139.3V141.1M292.7 139.3V141.1M305.8 139.3V141.1M318.8 139.3V141.1M331.9 139.3V141.1M345 139.3V141.1M358.1 139.3V141.1" stroke="#444" stroke-width=".6" fill="none"/>
<text x="202.1" y="9.9" font-size="10.1" font-weight="bold" fill="#111" textLength="39.2" lengthAdjust="spacingAndGlyphs">(b) 110°E</text>
<clipPath id="cp2"><rect x="382.3" y="12.1" width="163.4" height="126.8"/></clipPath>
<g clip-path="url(#cp2)">
<rect x="381.3" y="11.1" width="165.4" height="128.8" fill="#96ebfc"/>
<path d="M431.4 7.3C430.8 8.2 430.2 9.3 428.3 12.5C426.4 15.7 422.5 22 420 26.5C417.5 31 415.5 35.4 413.5 39.5C411.5 43.6 409.6 46.9 408 50.9C406.4 54.9 405.1 60.5 404 63.7C402.9 66.9 402.5 68.3 401.5 70C400.5 71.7 399.9 73.2 398 73.8C396.1 74.4 392.7 73.8 390 73.5C387.3 73.2 384.3 72.4 382 72C379.7 71.6 377.1 71.1 376.1 70.9L370.3 70.9L370.3 0.1L428.3 0.1Z" fill="#7ccefa"/>
<path d="M418.8 7.9C418.1 8.7 416.8 10.2 414.9 12.5C413 14.8 410.3 18.7 407.3 21.5C404.3 24.3 401.2 27.2 397.1 29.1C393 31 385.9 32 382.5 32.9C379.1 33.8 377.7 34.2 376.7 34.4L370.3 34.4L370.3 0.1L414.9 0.1Z" fill="#4eb5f8"/>
<path d="M444.4 7.3C443.9 8.1 443 9.6 441.3 12.4C439.6 15.2 436.3 20.1 434.2 24C432.1 27.9 429.9 32 428.6 36C427.3 40 426.7 44 426.2 48C425.7 52 425.7 55.8 425.5 60C425.3 64.2 425 68.7 424.8 73C424.6 77.3 425.1 81.5 424.5 86C423.9 90.5 422.9 95.8 421.2 100.1C419.5 104.4 417.7 108.9 414.2 112.1C410.7 115.3 403.8 116.7 400.1 119.2C396.4 121.7 394.3 124.9 392.1 127.2C389.9 129.5 387.5 131.9 387 133.2C386.5 134.5 387.8 134.6 389 135.2C390.2 135.8 392 136 394 136.6C396 137.2 397.5 138.3 401 138.8C404.5 139.3 410.3 139.6 415 139.6C419.7 139.6 425.5 139.3 429 138.9C432.5 138.5 432.5 137.7 436 137.4C439.5 137.1 443 137 450 136.9C457 136.8 472.3 136.8 478 136.9C483.7 137 482.5 137.2 484 137.6C485.5 138 485.6 138.6 487 139.4C488.4 140.2 491.3 142 492.1 142.5L492.1 150.9L557.7 150.9L557.7 0.1L441.3 0.1Z" fill="#ffe878"/>
<path d="M473.9 7.7C473.3 8.4 472.1 9.8 470 12.2C467.9 14.6 463.8 19 461.5 22C459.2 25 457.3 27 456.1 30.2C454.9 33.4 454.8 36.9 454.3 41.1C453.8 45.4 453.1 50.2 453.3 55.7C453.5 61.2 454.2 68.4 455.5 74.2C456.8 80 458.5 86 460.9 90.6C463.3 95.1 466.4 98.6 470 101.5C473.6 104.4 478.2 106.7 482.8 107.9C487.4 109.1 492.8 109.2 497.4 108.8C501.9 108.3 507.4 106.4 510.1 105.2C512.8 104 510.8 102.3 513.8 101.5C516.8 100.7 522.8 101.2 528.3 100.6C533.8 100 542.5 98.5 546.5 97.9C550.5 97.3 551.4 97.2 552.4 97L557.7 97L557.7 0.1L470 0.1Z" fill="#ffc236"/>
<path d="M487.7 8.1C486.9 8.8 485.7 10 483.3 12.2C480.9 14.4 476.2 18.5 473.5 21.5C470.8 24.5 468.4 26.9 467 30.2C465.6 33.5 465.4 37 464.8 41C464.2 45 463.4 49 463.7 53.9C464 58.8 464.7 65.4 466.4 70.6C468.1 75.8 471 81.1 473.7 85.1C476.4 89 479.2 92.3 482.8 94.3C486.4 96.3 490.9 96.8 495.5 97C500.1 97.2 505.5 96.2 510.1 95.5C514.7 94.8 518.6 93.8 522.9 93C527.1 92.2 531.7 91.6 535.6 91C539.5 90.4 543.7 89.9 546.5 89.5C549.3 89.1 551.5 88.8 552.4 88.7L557.7 88.7L557.7 0.1L483.3 0.1Z" fill="#ffa200"/>
<path d="M551 30.7C550.1 30.2 548 29.2 545.6 28C543.2 26.8 539.9 24.9 536.7 23.6C533.6 22.3 530.8 21 526.7 20.2C522.6 19.4 516.8 18.7 512.2 18.6C507.6 18.5 502.6 19.1 498.9 19.7C495.2 20.3 492.5 21.2 490 22.4C487.5 23.6 485.9 25 484 26.9C482.1 28.8 480.4 31.1 478.9 33.6C477.4 36.1 476.1 39.1 475.2 42C474.3 44.9 473.6 47.5 473.5 51C473.4 54.5 474.1 60 474.6 63C475.1 66 474.7 65.7 476.4 68.8C478.1 71.9 481.4 78.6 484.6 81.5C487.8 84.4 491.6 85.5 495.5 86.1C499.4 86.7 503.7 85.9 508.3 85.1C512.9 84.3 518.6 82.8 522.9 81.5C527.1 80.2 529.9 78.8 533.8 77.5C537.7 76.2 543.4 74.5 546.5 73.5C549.6 72.5 551.3 72 552.2 71.7L557.7 71.7L557.7 22Z" fill="#ff6200"/>
<path d="M508.9 24.1C504.6 24 499.8 24.7 496.7 25.8C493.6 26.9 491.8 28.5 490 30.5C488.2 32.5 487 35.1 486 38C485 40.9 484 44.5 483.8 48C483.6 51.5 484.2 56.1 484.6 59C485 61.9 484.9 62.6 486.4 65.1C487.9 67.6 490.7 71.9 493.7 74.2C496.7 76.5 501 78.3 504.6 78.8C508.2 79.2 511.8 78.6 515.6 76.9C519.4 75.2 524.5 71.6 527.5 68.8C530.5 66 531.9 63.1 533.3 60C534.7 56.9 535.3 52.7 536 50C536.7 47.3 537.2 46.2 537.3 44C537.3 41.8 537.2 39.2 536.3 37C535.4 34.8 534.3 32.8 532 31C529.7 29.2 526.4 27.4 522.5 26.3C518.6 25.2 513.2 24.2 508.9 24.1Z" fill="#ff3600"/>
<polygon points="494.6,51.2 501.9,43.9 512.8,39.3 518.3,43 525,50.6 520.1,59.7 509.2,63.4 499.2,59" fill="#fc1a04"/>
<path d="M395.4 12.1V138.9M408.4 12.1V138.9M421.5 12.1V138.9M434.6 12.1V138.9M447.7 12.1V138.9M460.7 12.1V138.9M473.8 12.1V138.9M486.9 12.1V138.9M499.9 12.1V138.9M513 12.1V138.9M526.1 12.1V138.9M539.2 12.1V138.9M382.3 52.1H545.7M382.3 75.5H545.7M382.3 92.1H545.7M382.3 105H545.7M382.3 115.5H545.7M382.3 124.4H545.7M382.3 132.1H545.7" stroke="#8a8a6a" stroke-opacity=".13" stroke-width=".5" fill="none" stroke-dasharray="1 1"/>
<path d="M438.7 50C439.2 49.2 440.1 46.3 442 45C443.9 43.7 447 42.1 450 42.1C453 42.1 457.4 43.6 460.1 45.1C462.8 46.6 466.2 49.3 466.2 51C466.2 52.7 463.5 54.3 460.1 55.2C456.7 56.1 449.4 56.4 446 56.2C442.6 56 441.2 55 440 54C438.8 53 438.9 50.7 438.7 50" fill="none" stroke="#2a2a2a" stroke-width=".55"/>
<path d="M419.2 12.4C418.7 15 416.9 22.1 416.2 28.1C415.5 34.1 414.7 42.9 415.2 48.2C415.7 53.6 417 56.6 419.2 60.2C421.4 63.8 425.2 68 428.2 70C431.2 72 434 72 437 72.5C440 73 442.8 73 446.3 72.7C449.8 72.5 454.7 71.8 458 71C461.3 70.2 463.4 69.7 466.1 68.2C468.8 66.7 472.2 65.3 474 62C475.8 58.7 476.9 53.9 477.1 48.2C477.3 42.6 475.1 34.1 475.1 28.1C475.1 22.1 476.8 15 477.1 12.4" fill="none" stroke="#2a2a2a" stroke-width=".55"/>
<path d="M399.1 12.4C399.4 15 400.6 22.1 401.1 28.1C401.6 34.1 401.3 42.2 402.1 48.2C402.9 54.2 404.6 59.7 406.1 64.2C407.6 68.7 409 72.3 411 75C413 77.7 415.6 79.2 418 80.5C420.4 81.8 422.2 82 425.2 83C428.2 84 432.5 85.6 436.2 86.5C439.9 87.4 443.3 88.8 447.3 88.4C451.3 88 456.2 85.6 460.3 84C464.4 82.4 468.7 80.8 472 79C475.3 77.2 477.9 76.2 480 73C482.1 69.8 483.3 66.2 484.5 60C485.7 53.8 486.1 41.7 487 35.5C487.9 29.3 488.7 26.6 490.2 22.7C491.7 18.8 494.9 13.7 495.9 11.9" fill="none" stroke="#2a2a2a" stroke-width=".55"/>
<path d="M383 24.1C383.8 26.4 387 33.1 388 38.1C389 43.1 388 48.4 389 54.2C390 60 392.3 68.5 394.1 73C395.9 77.5 397.7 78.5 400 81C402.3 83.5 405.3 85.8 408 88C410.7 90.2 413.4 92.5 416.2 94.1C419 95.7 421.7 96.6 425 97.5C428.3 98.4 432.5 99.3 436.2 99.7C439.9 100.1 442.3 101 447.3 100.1C452.3 99.2 460.9 96.4 466.4 94.1C471.8 91.8 476.2 89.5 480 86C483.8 82.5 486.8 77.3 489 73C491.2 68.7 492.2 64.7 493.5 60C494.8 55.3 495.4 50.4 496.5 45C497.6 39.6 498.5 31.9 500.4 27.8C502.3 23.7 505.9 22 508 20.2C510.1 18.4 511.1 17.8 512.8 17C514.5 16.2 515.2 15.6 518.2 15.7C521.2 15.8 527.3 16.2 530.9 17.6C534.5 19 537.3 22 539.8 24C542.3 26 545 28.6 546 29.5" fill="none" stroke="#2a2a2a" stroke-width=".55"/>
<path d="M404.1 121.2C406.1 120.4 410.9 117.7 416.2 116.2C421.5 114.7 429.5 113.8 436.2 112.1C442.9 110.4 450 108.2 456.3 106.1C462.6 104 469.1 101.5 474 99.5C478.9 97.5 482.7 96.7 486 94.1C489.3 91.5 491.8 87.7 494 84C496.2 80.3 497.3 76.3 499 72C500.7 67.7 502.8 62.5 504 58C505.2 53.5 505.9 48.8 506.5 45C507.1 41.2 506.3 38.1 507.4 35.5C508.5 32.9 510.7 30.5 513.1 29.1C515.5 27.7 519.4 27.4 522 27.2C524.6 26.9 527.1 27.3 529 27.6C530.9 27.9 531.7 27.8 533.5 29.1C535.3 30.4 538.1 31.9 539.8 35.5C541.5 39.1 542.6 46.9 543.6 51C544.6 55.1 545.6 58.5 546 60" fill="none" stroke="#2a2a2a" stroke-width=".55"/>
<path d="M396.1 134.2C398.4 132.7 403.4 127.4 410.1 125.2C416.8 123 428.5 122.7 436.2 121.2C443.9 119.7 450 118.2 456.3 116.2C462.6 114.2 469.1 111.5 474 109.5C478.9 107.5 482.3 107 486 104.1C489.7 101.2 493 96.3 496 92C499 87.7 501.7 82.7 504 78C506.3 73.3 507.9 68.5 510 64C512 59.5 514.9 53.6 516.3 51C517.7 48.4 516.8 49.7 518.2 48.2C519.6 46.7 522.7 43.4 524.5 41.8C526.3 40.2 527.9 38.8 529 38.6C530.1 38.4 529.9 38.4 530.9 40.5C531.9 42.6 533.6 48.4 534.7 51C535.8 53.6 536.6 53.4 537.4 56C538.2 58.6 537.9 63 539.3 66.9C540.7 70.9 544.5 77.6 545.6 79.7" fill="none" stroke="#2a2a2a" stroke-width=".55"/>
<path d="M410.1 138.2C412.8 136.9 420.8 132.2 426.2 130.2C431.6 128.2 436.6 127.6 442.3 126.2C448 124.8 454.5 123.3 460.1 122C465.7 120.7 472.1 120 476.1 118.2C480.1 116.4 481.3 114.4 484 111C486.7 107.6 488.8 101.8 492.2 98C495.6 94.2 501.3 91.3 504.6 88C507.9 84.7 509.5 81.1 511.9 77.9C514.3 74.7 517 71.1 519.2 68.8C521.4 66.5 523.4 64.9 525 64C526.6 63.1 527.9 61.6 528.9 63.3C529.9 65 530 70.2 531.1 74.2C532.2 78.2 533.2 82.5 535.6 87C538 91.5 543.9 99.1 545.6 101.5" fill="none" stroke="#2a2a2a" stroke-width=".55"/>
<path d="M440 137.2C445 136.1 460.4 133 470.1 130.8C479.8 128.6 492.2 127.3 498.2 124.2C504.2 121.1 504 115.6 506.3 112.1C508.6 108.6 510 104.9 512.3 103.1C514.6 101.3 517.1 101.6 520 101.5C522.9 101.4 526.7 101.9 529.4 102.7C532.1 103.5 533.7 103.8 536.4 106.1C539.1 108.3 543.9 114.5 545.4 116.2" fill="none" stroke="#2a2a2a" stroke-width=".55" stroke-dasharray="4 1.4 .8 1.4"/>
<path d="M455 138.5C457.2 138.2 463.8 137.3 468 137C472.2 136.7 476 136.6 480 136.6C484 136.6 488.7 136.7 492 137C495.3 137.3 498.7 138.2 500 138.5" fill="none" stroke="#2a2a2a" stroke-width=".55" stroke-dasharray="4 1.4 .8 1.4"/>
<path d="M444.4 7.3C443.9 8.1 443 9.6 441.3 12.4C439.6 15.2 436.3 20.1 434.2 24C432.1 27.9 429.9 32 428.6 36C427.3 40 426.7 44 426.2 48C425.7 52 425.7 55.8 425.5 60C425.3 64.2 425 68.7 424.8 73C424.6 77.3 425.1 81.5 424.5 86C423.9 90.5 422.9 95.8 421.2 100.1C419.5 104.4 417.7 108.9 414.2 112.1C410.7 115.3 403.8 116.7 400.1 119.2C396.4 121.7 394.3 124.9 392.1 127.2C389.9 129.5 387.5 131.9 387 133.2C386.5 134.5 387.8 134.6 389 135.2C390.2 135.8 392.2 136.1 394 136.6C395.8 137.1 398.8 137.9 399.8 138.2" fill="none" stroke="#a83c12" stroke-width="1.7" stroke-dasharray="5 2.4"/>
<g><rect x="444.4" y="39.7" width="5.8" height="4.8" fill="#fff" fill-opacity=".92"/><text x="447.3" y="43.9" font-size="4.8" text-anchor="middle" fill="#444">30</text></g>
<g><rect x="443.4" y="70.3" width="5.8" height="4.8" fill="#fff" fill-opacity=".92"/><text x="446.3" y="74.5" font-size="4.8" text-anchor="middle" fill="#444">25</text></g>
<g><rect x="444.4" y="86" width="5.8" height="4.8" fill="#fff" fill-opacity=".92"/><text x="447.3" y="90.2" font-size="4.8" text-anchor="middle" fill="#444">20</text></g>
<g><rect x="444.4" y="97.7" width="5.8" height="4.8" fill="#fff" fill-opacity=".92"/><text x="447.3" y="101.8" font-size="4.8" text-anchor="middle" fill="#444">15</text></g>
<g><rect x="509.9" y="14.6" width="5.8" height="4.8" fill="#fff" fill-opacity=".92"/><text x="512.8" y="18.8" font-size="4.8" text-anchor="middle" fill="#444">15</text></g>
<g><rect x="526.1" y="25.2" width="5.8" height="4.8" fill="#fff" fill-opacity=".92"/><text x="529" y="29.4" font-size="4.8" text-anchor="middle" fill="#444">10</text></g>
<g><rect x="527.4" y="36.2" width="3.2" height="4.8" fill="#fff" fill-opacity=".92"/><text x="529" y="40.4" font-size="4.8" text-anchor="middle" fill="#444">5</text></g>
<g><rect x="527.3" y="60.9" width="3.2" height="4.8" fill="#fff" fill-opacity=".92"/><text x="528.9" y="65" font-size="4.8" text-anchor="middle" fill="#444">0</text></g>
<g><rect x="526" y="100.6" width="5.8" height="4.8" fill="#fff" fill-opacity=".92"/><text x="528.9" y="104.8" font-size="4.8" text-anchor="middle" fill="#444">−5</text></g>
<g><rect x="476" y="134.6" width="8.3" height="4.8" fill="#fff" fill-opacity=".92"/><text x="480.2" y="138.8" font-size="4.8" text-anchor="middle" fill="#444">−10</text></g>
</g>
<rect x="382.3" y="12.1" width="163.4" height="126.8" fill="none" stroke="#444" stroke-width=".7"/>
<text x="368.3" y="15.1" font-size="6.9" textLength="10.7" lengthAdjust="spacingAndGlyphs">100</text>
<text x="368.3" y="55.1" font-size="6.9" textLength="10.7" lengthAdjust="spacingAndGlyphs">200</text>
<text x="368.3" y="78.5" font-size="6.9" textLength="10.7" lengthAdjust="spacingAndGlyphs">300</text>
<text x="368.3" y="95.1" font-size="6.9" textLength="10.7" lengthAdjust="spacingAndGlyphs">400</text>
<text x="368.3" y="108" font-size="6.9" textLength="10.7" lengthAdjust="spacingAndGlyphs">500</text>
<text x="368.3" y="118.5" font-size="6.9" textLength="10.7" lengthAdjust="spacingAndGlyphs">600</text>
<text x="368.3" y="127.4" font-size="6.9" textLength="10.7" lengthAdjust="spacingAndGlyphs">700</text>
<text x="368.3" y="135.1" font-size="6.9" textLength="10.7" lengthAdjust="spacingAndGlyphs">800</text>
<text x="368.3" y="142.1" font-size="6.9" textLength="10.7" lengthAdjust="spacingAndGlyphs">900</text>
<text x="376.8" y="147.6" font-size="6.9" textLength="10.9" lengthAdjust="spacingAndGlyphs">20N</text>
<text x="389.8" y="147.6" font-size="6.9" textLength="10.9" lengthAdjust="spacingAndGlyphs">22N</text>
<text x="402.9" y="147.6" font-size="6.9" textLength="10.9" lengthAdjust="spacingAndGlyphs">24N</text>
<text x="416" y="147.6" font-size="6.9" textLength="10.9" lengthAdjust="spacingAndGlyphs">26N</text>
<text x="429" y="147.6" font-size="6.9" textLength="10.9" lengthAdjust="spacingAndGlyphs">28N</text>
<text x="442.1" y="147.6" font-size="6.9" textLength="10.9" lengthAdjust="spacingAndGlyphs">30N</text>
<text x="455.2" y="147.6" font-size="6.9" textLength="10.9" lengthAdjust="spacingAndGlyphs">32N</text>
<text x="468.3" y="147.6" font-size="6.9" textLength="10.9" lengthAdjust="spacingAndGlyphs">34N</text>
<text x="481.3" y="147.6" font-size="6.9" textLength="10.9" lengthAdjust="spacingAndGlyphs">36N</text>
<text x="494.4" y="147.6" font-size="6.9" textLength="10.9" lengthAdjust="spacingAndGlyphs">38N</text>
<text x="507.5" y="147.6" font-size="6.9" textLength="10.9" lengthAdjust="spacingAndGlyphs">40N</text>
<text x="520.5" y="147.6" font-size="6.9" textLength="10.9" lengthAdjust="spacingAndGlyphs">42N</text>
<text x="533.6" y="147.6" font-size="6.9" textLength="10.9" lengthAdjust="spacingAndGlyphs">44N</text>
<path d="M380.3 12.1H382.3M380.3 52.1H382.3M380.3 75.5H382.3M380.3 92.1H382.3M380.3 105H382.3M380.3 115.5H382.3M380.3 124.4H382.3M380.3 132.1H382.3M380.3 138.9H382.3M382.3 138.9V140.7M395.4 138.9V140.7M408.4 138.9V140.7M421.5 138.9V140.7M434.6 138.9V140.7M447.7 138.9V140.7M460.7 138.9V140.7M473.8 138.9V140.7M486.9 138.9V140.7M499.9 138.9V140.7M513 138.9V140.7M526.1 138.9V140.7M539.2 138.9V140.7" stroke="#444" stroke-width=".6" fill="none"/>
<text x="383.2" y="9.6" font-size="10.1" font-weight="bold" fill="#111" textLength="38.7" lengthAdjust="spacingAndGlyphs">(c) 120°E</text>
<clipPath id="cp3"><rect x="20" y="163.3" width="163.4" height="127.4"/></clipPath>
<g clip-path="url(#cp3)">
<rect x="19" y="162.3" width="165.4" height="129.4" fill="#96ebfc"/>
<path d="M71.7 158.1C71.2 158.9 70.5 160.2 68.8 163.3C67.1 166.4 63.9 171.8 61.5 176.4C59.1 181 57 186.2 54.3 191C51.6 195.8 48.1 200.8 45.1 205.5C42.1 210.2 38.7 215.7 36 219C33.3 222.3 31 223.8 29 225.5C27 227.2 25.4 228.1 24 229C22.6 229.9 21.9 230.2 20.4 231C18.9 231.8 16 233.4 15.2 233.9L8 233.9L8 151.3L68.8 151.3Z" fill="#7ccefa"/>
<path d="M52.2 158.4C51.7 159.2 50.9 160.3 48.8 163.3C46.7 166.3 43 172.4 39.7 176.4C36.4 180.4 32.1 184.4 28.8 187.3C25.5 190.2 22.3 192 20 193.7C17.7 195.4 16 196.6 15.1 197.2L8 197.2L8 151.3L48.8 151.3Z" fill="#4eb5f8"/>
<path d="M32.7 159.8C31.9 160.4 29.2 162.3 27.8 163.3C26.4 164.3 25.3 165.1 24 166C22.7 166.9 21.5 167.7 20 168.7C18.5 169.7 15.9 171.5 15 172.1L8 172.1L8 151.3L27.8 151.3Z" fill="#24a4f7"/>
<path d="M86.3 158.4C85.8 159.3 85 160.6 83.3 163.6C81.6 166.6 78.4 171.7 76.2 176.1C74 180.5 72 185.1 70.2 190.1C68.4 195.1 66.7 200.7 65.2 206.2C63.7 211.7 62.2 219.4 61.2 223C60.2 226.6 60 225.5 59.2 228C58.4 230.5 57.2 234.3 56.2 238C55.2 241.7 54 246.1 53.1 250.1C52.2 254.1 51.3 258.4 51.1 262.1C50.9 265.8 50.6 269.5 52.1 272.2C53.6 274.9 56.5 276.7 60.2 278.2C63.9 279.7 70.2 280.9 74.2 281.2C78.2 281.5 80.6 280.6 84.3 279.8C88 279 92 277.6 96.3 276.6C100.6 275.6 106.2 274.6 110.2 274C114.2 273.4 116.4 273 120.1 273.2C123.8 273.4 128.5 274 132.2 275.2C135.9 276.4 139.2 278.4 142.2 280.2C145.2 282 148.1 284.6 150.3 286.2C152.5 287.8 153.7 288.6 155.3 289.8C156.9 291 159.4 292.7 160.2 293.3L160.2 302.7L195.4 302.7L195.4 151.3L83.3 151.3Z" fill="#ffe878"/>
<path d="M113.7 158.8C113.3 159.4 111.5 161.8 110.1 163.6C108.7 165.4 103.9 171.2 102.1 174.1C100.3 177 96.1 185 95 188.1C93.9 191.2 92.7 197.9 92.5 201C92.3 204.1 92.9 211.7 93.3 214.8C93.7 217.9 95 225.2 96 227.8C97 230.4 99.8 235.2 101.6 237C103.4 238.8 108.9 242.2 111.8 243.5C114.7 244.8 122.8 247.1 126.6 248.1C130.4 249.1 140.8 251.3 144 251.9C147.2 252.5 150.8 253.1 154.3 253.6C157.8 254.1 171 255.8 174.4 256.1C177.8 256.4 182 256.4 183.8 256.5C185.6 256.6 189.1 256.7 189.8 256.8L195.4 256.8L195.4 151.3L110.1 151.3Z" fill="#ffc236"/>
<path d="M131.9 159.8C131.3 160.3 129.3 161.9 127.2 163.6C125.1 165.3 116.6 171.2 114.1 174.1C111.6 177 107.4 185 106.1 188.1C104.8 191.2 103 198.3 102.7 201C102.4 203.7 102.9 208.4 103.4 211.1C103.9 213.8 105.8 221.5 107.1 224.1C108.4 226.7 112.3 231.6 114.6 233.3C116.9 235 123.2 237.8 126.6 238.9C130 240 140.8 242.1 144 242.6C147.2 243.1 151.2 243.3 154.3 243.3C157.4 243.3 166.9 242.9 170.3 242.5C173.7 242.1 181.5 240.4 183.8 240C186.1 239.6 189 239 189.7 238.9L195.4 238.9L195.4 151.3L127.2 151.3Z" fill="#ffa200"/>
<path d="M189.6 171.5C188.9 171.3 186.8 170.8 183.8 170C180.8 169.2 168.2 165.5 164.3 165C160.4 164.5 153.8 165 150.3 165.6C146.8 166.2 137.5 168.3 134.2 170C130.9 171.7 124.5 177.3 122.2 180.1C119.9 182.9 115.2 191.8 114.1 194.1C113 196.4 112.8 198.2 112.7 200C112.6 201.8 112.9 207 113.6 209.3C114.3 211.6 116.8 217.2 118.3 219.4C119.8 221.6 124.3 226.3 126.6 227.8C128.9 229.3 135.4 231.7 137.7 232.4C140 233.1 143.1 233.7 146 234C148.9 234.3 158.5 235.2 162.9 234.6C167.3 234 180.7 230 183.8 229.2C186.9 228.4 188.9 227.9 189.6 227.7L195.4 227.7L195.4 164Z" fill="#ff6200"/>
<path d="M189.4 186.3C188.7 186 186.3 185.1 183.8 184.1C181.3 183.1 172 178.9 168.3 178.1C164.6 177.3 155.8 176.8 152.3 177.1C148.8 177.4 140.9 179.6 138.2 181.1C135.5 182.6 130.8 188.1 129.2 190.1C127.6 192.1 124.8 196.2 124.4 198.2C124 200.2 125 205.5 125.7 207.4C126.4 209.3 128.9 213.2 130.3 214.8C131.7 216.4 136.1 220.3 137.7 221.3C139.3 222.3 142.3 223 144 223.3C145.7 223.6 149.1 224 151.9 223.9C154.7 223.8 164.6 223.7 168.3 222.8C172 221.9 181.3 217.4 183.8 216.4C186.3 215.4 188.7 214.4 189.3 214.1L195.4 214.1L195.4 178.1Z" fill="#ff3600"/>
<polygon points="149.2,186.4 168.3,186.4 172,201 151.9,211 140.1,201.9" fill="#fc1a04"/>
<path d="M20 288.5L22.6 290.7L20 290.7Z" fill="#ffe878"/>
<path d="M33.1 163.3V290.7M46.1 163.3V290.7M59.2 163.3V290.7M72.3 163.3V290.7M85.4 163.3V290.7M98.4 163.3V290.7M111.5 163.3V290.7M124.6 163.3V290.7M137.6 163.3V290.7M150.7 163.3V290.7M163.8 163.3V290.7M176.9 163.3V290.7M20 203.5H183.4M20 227H183.4M20 243.7H183.4M20 256.6H183.4M20 267.2H183.4M20 276.1H183.4M20 283.9H183.4" stroke="#8a8a6a" stroke-opacity=".13" stroke-width=".5" fill="none" stroke-dasharray="1 1"/>
<path d="M86.3 158.4C85.8 159.3 85 160.6 83.3 163.6C81.6 166.6 78.4 171.7 76.2 176.1C74 180.5 72 185.1 70.2 190.1C68.4 195.1 66.7 200.7 65.2 206.2C63.7 211.7 62.2 219.4 61.2 223C60.2 226.6 60 225.5 59.2 228C58.4 230.5 57.2 234.3 56.2 238C55.2 241.7 54 246.1 53.1 250.1C52.2 254.1 51.3 258.4 51.1 262.1C50.9 265.8 50.6 269.5 52.1 272.2C53.6 274.9 56.5 276.7 60.2 278.2C63.9 279.7 70.2 280.9 74.2 281.2C78.2 281.5 80.6 280.6 84.3 279.8C88 279 92 277.6 96.3 276.6C100.6 275.6 106.2 274.6 110.2 274C114.2 273.4 116.4 273 120.1 273.2C123.8 273.4 128.5 274 132.2 275.2C135.9 276.4 139.2 278.4 142.2 280.2C145.2 282 148.1 284.6 150.3 286.2C152.5 287.8 153.7 288.6 155.3 289.8C156.9 291 159.4 292.7 160.2 293.3" fill="none" stroke="#9c3a14" stroke-width="1.3" stroke-dasharray="5.6 3.9"/>
</g>
<rect x="20" y="163.3" width="163.4" height="127.4" fill="none" stroke="#444" stroke-width=".7"/>
<text x="6" y="166.3" font-size="6.9" textLength="10.7" lengthAdjust="spacingAndGlyphs">100</text>
<text x="6" y="206.5" font-size="6.9" textLength="10.7" lengthAdjust="spacingAndGlyphs">200</text>
<text x="6" y="230" font-size="6.9" textLength="10.7" lengthAdjust="spacingAndGlyphs">300</text>
<text x="6" y="246.7" font-size="6.9" textLength="10.7" lengthAdjust="spacingAndGlyphs">400</text>
<text x="6" y="259.6" font-size="6.9" textLength="10.7" lengthAdjust="spacingAndGlyphs">500</text>
<text x="6" y="270.2" font-size="6.9" textLength="10.7" lengthAdjust="spacingAndGlyphs">600</text>
<text x="6" y="279.1" font-size="6.9" textLength="10.7" lengthAdjust="spacingAndGlyphs">700</text>
<text x="6" y="286.9" font-size="6.9" textLength="10.7" lengthAdjust="spacingAndGlyphs">800</text>
<text x="6" y="293.9" font-size="6.9" textLength="10.7" lengthAdjust="spacingAndGlyphs">900</text>
<text x="14.4" y="299.4" font-size="6.9" textLength="10.9" lengthAdjust="spacingAndGlyphs">20N</text>
<text x="27.5" y="299.4" font-size="6.9" textLength="10.9" lengthAdjust="spacingAndGlyphs">22N</text>
<text x="40.6" y="299.4" font-size="6.9" textLength="10.9" lengthAdjust="spacingAndGlyphs">24N</text>
<text x="53.7" y="299.4" font-size="6.9" textLength="10.9" lengthAdjust="spacingAndGlyphs">26N</text>
<text x="66.7" y="299.4" font-size="6.9" textLength="10.9" lengthAdjust="spacingAndGlyphs">28N</text>
<text x="79.8" y="299.4" font-size="6.9" textLength="10.9" lengthAdjust="spacingAndGlyphs">30N</text>
<text x="92.9" y="299.4" font-size="6.9" textLength="10.9" lengthAdjust="spacingAndGlyphs">32N</text>
<text x="106" y="299.4" font-size="6.9" textLength="10.9" lengthAdjust="spacingAndGlyphs">34N</text>
<text x="119" y="299.4" font-size="6.9" textLength="10.9" lengthAdjust="spacingAndGlyphs">36N</text>
<text x="132.1" y="299.4" font-size="6.9" textLength="10.9" lengthAdjust="spacingAndGlyphs">38N</text>
<text x="145.2" y="299.4" font-size="6.9" textLength="10.9" lengthAdjust="spacingAndGlyphs">40N</text>
<text x="158.2" y="299.4" font-size="6.9" textLength="10.9" lengthAdjust="spacingAndGlyphs">42N</text>
<text x="171.3" y="299.4" font-size="6.9" textLength="10.9" lengthAdjust="spacingAndGlyphs">44N</text>
<path d="M18 163.3H20M18 203.5H20M18 227H20M18 243.7H20M18 256.6H20M18 267.2H20M18 276.1H20M18 283.9H20M18 290.7H20M20 290.7V292.5M33.1 290.7V292.5M46.1 290.7V292.5M59.2 290.7V292.5M72.3 290.7V292.5M85.4 290.7V292.5M98.4 290.7V292.5M111.5 290.7V292.5M124.6 290.7V292.5M137.6 290.7V292.5M150.7 290.7V292.5M163.8 290.7V292.5M176.9 290.7V292.5" stroke="#444" stroke-width=".6" fill="none"/>
<text x="20.9" y="160.8" font-size="10.1" font-weight="bold" fill="#111" textLength="39.2" lengthAdjust="spacingAndGlyphs">(d) 105°E</text>
<clipPath id="cp4"><rect x="201.2" y="162.2" width="163.4" height="128"/></clipPath>
<g clip-path="url(#cp4)">
<rect x="200.2" y="161.2" width="165.4" height="130" fill="#96ebfc"/>
<path d="M250.1 157.6C249.6 158.4 248.7 159.9 247 162.7C245.3 165.5 242.4 170.5 239.7 174.6C237 178.7 233.9 183.1 230.6 187.3C227.3 191.6 223.3 195.8 219.7 200.1C216.1 204.3 211.5 209.7 208.8 212.8C206.1 216 204.6 217.5 203.3 219C202 220.5 202 220.7 201 222C200 223.3 198 226 197.3 226.8L189.2 226.8L189.2 150.2L247 150.2Z" fill="#7ccefa"/>
<path d="M232.8 158.2C232.1 159 231 160.3 228.8 162.7C226.6 165.1 223 169.9 219.7 172.8C216.4 175.7 211.9 178.2 208.8 180C205.7 181.8 203.3 182.7 201.1 183.7C198.9 184.7 196.6 185.9 195.7 186.3L189.2 186.3L189.2 150.2L228.8 150.2Z" fill="#4eb5f8"/>
<path d="M266.5 157.6C266 158.4 265.1 159.9 263.4 162.7C261.7 165.5 258.4 170.5 256.1 174.6C253.8 178.7 251.5 183.4 249.7 187.3C247.9 191.2 246.4 194.7 245.2 198.3C244 202 243.2 205.8 242.4 209.2C241.6 212.6 241.2 214.8 240.6 219C240 223.2 239.3 230.1 238.8 234.7C238.3 239.3 237.9 242.8 237.5 246.6C237.1 250.4 236.4 254.2 236.1 257.5C235.8 260.8 235.1 264 235.7 266.6C236.3 269.2 237.5 271.2 239.7 273C241.9 274.8 245.2 276.1 248.8 277.5C252.5 278.9 257.4 280.6 261.6 281.5C265.9 282.4 269.9 282.7 274.3 283C278.7 283.3 283.4 283.2 288.2 283.4C292.9 283.5 298.2 283.5 302.8 283.9C307.4 284.3 312.5 284.9 315.5 285.7C318.5 286.5 319.8 287.8 321 288.5C322.2 289.2 321.7 289.1 322.8 290C323.9 290.9 326.6 293.2 327.4 293.8L327.4 302.2L376.6 302.2L376.6 150.2L263.4 150.2Z" fill="#ffe878"/>
<path d="M297.3 157.9C296.9 158.5 295.2 160.8 293.7 162.7C292.2 164.6 286.6 171.5 284.6 174.6C282.6 177.7 277.8 185.7 276.4 189.1C275 192.5 273 200.7 272.7 203.7C272.4 206.7 273 211.6 273.6 214.6C274.2 217.6 276.5 226.1 278.2 229.1C279.9 232.1 285.3 238 288.2 240.1C291.1 242.2 299 246 302.8 247.4C306.6 248.8 316.3 251.1 321 251.9C325.7 252.7 337.7 254.3 342.9 254.6C348.1 254.9 362.3 254.6 365.6 254.6C368.9 254.6 370.9 254.6 371.6 254.6L376.6 254.6L376.6 150.2L293.7 150.2Z" fill="#ffc236"/>
<path d="M314.8 159C314.3 159.4 312.1 161.1 310.1 162.7C308.1 164.3 299.9 169.9 297.3 172.8C294.7 175.7 289.7 183.9 288.2 187.3C286.7 190.7 284.9 199.1 284.6 201.9C284.3 204.7 284.9 208.4 285.5 210.9C286.1 213.4 288.4 221.1 290 223.7C291.6 226.3 296.3 231 299.1 232.8C301.9 234.6 309.9 238.2 313.7 239.2C317.5 240.2 327.7 240.9 331.9 241C336.1 241.1 346.2 240.6 350.1 240.1C354 239.6 363.1 237 365.6 236.4C368.1 235.8 370.8 235.2 371.4 235L376.6 235L376.6 150.2L310.1 150.2Z" fill="#ffa200"/>
<path d="M371.3 175.7C370.6 175.5 368.1 174.6 365.6 173.7C363.1 172.8 353.8 168.9 350.1 168.2C346.4 167.5 337.4 167 333.8 167.3C330.2 167.6 322.4 169.4 319.2 170.9C316 172.4 308.8 177.7 306.4 180C303.9 182.3 299.5 188.2 298.2 191C296.9 193.8 295.6 201.4 295.5 203.7C295.4 206 296.2 208.8 297.3 210.9C298.4 213 302.3 219.9 304.6 221.9C306.9 223.9 314.2 227.2 317.4 228.2C320.6 229.2 328.3 230.2 331.9 230.1C335.5 230 344.4 228.5 348.3 227.3C352.2 226.1 362.9 221.1 365.6 220C368.3 218.9 370.5 217.9 371.1 217.7L376.6 217.7L376.6 167.7Z" fill="#ff6200"/>
<path d="M370.3 191C369.7 190.6 366.7 188.2 365.6 187.3C364.5 186.4 362.9 184.7 361.1 183.7C359.3 182.7 353.3 179.7 350.1 179.1C346.9 178.5 337.2 178 333.8 178.2C330.4 178.4 323.4 179.8 321 180.9C318.6 182 314.2 185.1 312.8 187.3C311.4 189.5 309.4 197.7 309.2 200C309 202.3 310 205.5 311 207.3C312 209.1 315.4 214.1 317.4 215.5C319.4 216.9 325.3 218.8 328.3 219.1C331.3 219.4 339.7 218.9 342.9 218.2C346.1 217.5 353 214.1 355.6 212.8C358.2 211.5 363.8 208.3 365.6 207.3C367.4 206.3 370.2 204.7 370.9 204.4L376.6 204.4L376.6 181.3Z" fill="#ff3600"/>
<polygon points="330.4,202 333.8,200.3 337.2,202 333.8,203.7" fill="#fc1a04"/>
<path d="M214.3 162.2V290.2M227.3 162.2V290.2M240.4 162.2V290.2M253.5 162.2V290.2M266.6 162.2V290.2M279.6 162.2V290.2M292.7 162.2V290.2M305.8 162.2V290.2M318.8 162.2V290.2M331.9 162.2V290.2M345 162.2V290.2M358.1 162.2V290.2M201.2 202.6H364.6M201.2 226.2H364.6M201.2 243H364.6M201.2 256H364.6M201.2 266.6H364.6M201.2 275.6H364.6M201.2 283.3H364.6" stroke="#8a8a6a" stroke-opacity=".13" stroke-width=".5" fill="none" stroke-dasharray="1 1"/>
<path d="M266.5 157.6C266 158.4 265.1 159.9 263.4 162.7C261.7 165.5 258.4 170.5 256.1 174.6C253.8 178.7 251.5 183.4 249.7 187.3C247.9 191.2 246.4 194.7 245.2 198.3C244 202 243.2 205.8 242.4 209.2C241.6 212.6 241.2 214.8 240.6 219C240 223.2 239.3 230.1 238.8 234.7C238.3 239.3 237.9 242.8 237.5 246.6C237.1 250.4 236.4 254.2 236.1 257.5C235.8 260.8 235.1 264 235.7 266.6C236.3 269.2 237.5 271.2 239.7 273C241.9 274.8 245.2 276.1 248.8 277.5C252.5 278.9 257.4 280.6 261.6 281.5C265.9 282.4 269.9 282.7 274.3 283C278.7 283.3 283.4 283.2 288.2 283.4C292.9 283.5 298.2 283.5 302.8 283.9C307.4 284.3 312.5 284.9 315.5 285.7C318.5 286.5 319.8 287.8 321 288.5C322.2 289.2 321.7 289.1 322.8 290C323.9 290.9 326.6 293.2 327.4 293.8" fill="none" stroke="#9c3a14" stroke-width="1.3" stroke-dasharray="5.6 3.9"/>
</g>
<rect x="201.2" y="162.2" width="163.4" height="128" fill="none" stroke="#444" stroke-width=".7"/>
<text x="187.2" y="165.2" font-size="6.9" textLength="10.7" lengthAdjust="spacingAndGlyphs">100</text>
<text x="187.2" y="205.6" font-size="6.9" textLength="10.7" lengthAdjust="spacingAndGlyphs">200</text>
<text x="187.2" y="229.2" font-size="6.9" textLength="10.7" lengthAdjust="spacingAndGlyphs">300</text>
<text x="187.2" y="246" font-size="6.9" textLength="10.7" lengthAdjust="spacingAndGlyphs">400</text>
<text x="187.2" y="259" font-size="6.9" textLength="10.7" lengthAdjust="spacingAndGlyphs">500</text>
<text x="187.2" y="269.6" font-size="6.9" textLength="10.7" lengthAdjust="spacingAndGlyphs">600</text>
<text x="187.2" y="278.6" font-size="6.9" textLength="10.7" lengthAdjust="spacingAndGlyphs">700</text>
<text x="187.2" y="286.3" font-size="6.9" textLength="10.7" lengthAdjust="spacingAndGlyphs">800</text>
<text x="187.2" y="293.4" font-size="6.9" textLength="10.7" lengthAdjust="spacingAndGlyphs">900</text>
<text x="195.7" y="298.9" font-size="6.9" textLength="10.9" lengthAdjust="spacingAndGlyphs">20N</text>
<text x="208.7" y="298.9" font-size="6.9" textLength="10.9" lengthAdjust="spacingAndGlyphs">22N</text>
<text x="221.8" y="298.9" font-size="6.9" textLength="10.9" lengthAdjust="spacingAndGlyphs">24N</text>
<text x="234.9" y="298.9" font-size="6.9" textLength="10.9" lengthAdjust="spacingAndGlyphs">26N</text>
<text x="247.9" y="298.9" font-size="6.9" textLength="10.9" lengthAdjust="spacingAndGlyphs">28N</text>
<text x="261" y="298.9" font-size="6.9" textLength="10.9" lengthAdjust="spacingAndGlyphs">30N</text>
<text x="274.1" y="298.9" font-size="6.9" textLength="10.9" lengthAdjust="spacingAndGlyphs">32N</text>
<text x="287.2" y="298.9" font-size="6.9" textLength="10.9" lengthAdjust="spacingAndGlyphs">34N</text>
<text x="300.2" y="298.9" font-size="6.9" textLength="10.9" lengthAdjust="spacingAndGlyphs">36N</text>
<text x="313.3" y="298.9" font-size="6.9" textLength="10.9" lengthAdjust="spacingAndGlyphs">38N</text>
<text x="326.4" y="298.9" font-size="6.9" textLength="10.9" lengthAdjust="spacingAndGlyphs">40N</text>
<text x="339.4" y="298.9" font-size="6.9" textLength="10.9" lengthAdjust="spacingAndGlyphs">42N</text>
<text x="352.5" y="298.9" font-size="6.9" textLength="10.9" lengthAdjust="spacingAndGlyphs">44N</text>
<path d="M199.2 162.2H201.2M199.2 202.6H201.2M199.2 226.2H201.2M199.2 243H201.2M199.2 256H201.2M199.2 266.6H201.2M199.2 275.6H201.2M199.2 283.3H201.2M199.2 290.2H201.2M201.2 290.2V292M214.3 290.2V292M227.3 290.2V292M240.4 290.2V292M253.5 290.2V292M266.6 290.2V292M279.6 290.2V292M292.7 290.2V292M305.8 290.2V292M318.8 290.2V292M331.9 290.2V292M345 290.2V292M358.1 290.2V292" stroke="#444" stroke-width=".6" fill="none"/>
<text x="202.1" y="159.7" font-size="10.1" font-weight="bold" fill="#111" textLength="38.7" lengthAdjust="spacingAndGlyphs">(e) 110°E</text>
<clipPath id="cp5"><rect x="382.3" y="162.2" width="163.4" height="128"/></clipPath>
<g clip-path="url(#cp5)">
<rect x="381.3" y="161.2" width="165.4" height="130" fill="#96ebfc"/>
<path d="M428.3 157.6C427.8 158.4 426.9 159.9 425.2 162.7C423.5 165.5 421.2 171.1 417.9 174.6C414.5 178.1 409.4 181 405.1 183.7C400.9 186.4 396.2 188.6 392.4 191C388.6 193.4 384.9 196.5 382.4 198.3C379.9 200.1 378.4 201.2 377.6 201.8L370.3 201.8L370.3 150.2L425.2 150.2Z" fill="#7ccefa"/>
<path d="M407.8 158.7C407.1 159.4 405.3 161 403.3 162.7C401.3 164.4 399.5 167 396 169.1C392.5 171.2 385.6 174 382.4 175.5C379.2 177 377.9 177.6 377 178.1L370.3 178.1L370.3 150.2L403.3 150.2Z" fill="#4eb5f8"/>
<path d="M446.7 157.7C446.2 158.5 444.9 160.5 443.4 162.7C441.9 164.9 440 167.7 437.9 170.9C435.8 174.1 432.7 178.9 430.6 181.9C428.5 184.9 426.7 186.1 425.2 189.1C423.7 192.1 422.3 196.4 421.5 200.1C420.7 203.8 420.8 207.8 420.6 211C420.5 214.2 420.6 215.5 420.6 219C420.6 222.5 420.6 227.4 420.6 232C420.6 236.6 420.8 242 420.6 246.6C420.5 251.2 419.9 256 419.7 259.3C419.5 262.6 419.1 264.3 419.7 266.6C420.3 268.9 421 271 423.4 273C425.8 275 430.1 277 434.3 278.4C438.6 279.8 443.8 280.7 448.9 281.5C453.9 282.3 459.9 282.6 464.6 283C469.3 283.4 473.7 283.4 477.3 283.9C480.9 284.3 484 284.9 486.4 285.7C488.8 286.5 490.7 287.8 491.9 288.5C493.1 289.2 492.4 289 493.4 290C494.4 291 496.9 293.5 497.6 294.2L497.6 302.2L557.7 302.2L557.7 150.2L443.4 150.2Z" fill="#ffe878"/>
<path d="M480.6 158.4C480.1 158.9 478.1 161 476.4 162.7C474.7 164.4 468.6 170.1 466.4 172.8C464.2 175.5 458.7 182.3 457.3 185.5C455.9 188.7 454.7 196.3 454.6 200.1C454.5 203.9 455.4 214.2 456.4 218.2C457.4 222.2 461.2 231.4 462.8 234.6C464.4 237.8 467.9 243.4 470 245.5C472.1 247.6 477.4 251.7 481 252.8C484.6 253.9 496.1 254.4 501 254.6C505.9 254.8 517.6 254.8 522.9 254.6C528.2 254.4 543 253.1 546.5 252.8C550 252.5 551.8 252.4 552.5 252.3L557.7 252.3L557.7 150.2L476.4 150.2Z" fill="#ffc236"/>
<path d="M500.7 159.7C500.1 160.1 497.8 161.4 495.5 162.7C493.2 164 483.9 168.5 481 170.9C478.1 173.3 472.6 180.5 470.9 183.7C469.2 186.9 467.1 194.9 466.8 198.3C466.5 201.7 467.4 209.6 468.2 212.8C469 216 471.8 222.9 473.7 225.5C475.6 228.1 481.6 233.7 484.6 235.5C487.6 237.3 495.4 240.3 499.2 241C503 241.7 513.4 242.1 517.4 241.9C521.4 241.7 530.4 239.8 533.8 239.2C537.2 238.6 544.3 236.9 546.5 236.4C548.7 235.9 551.7 235.3 552.4 235.1L557.7 235.1L557.7 150.2L495.5 150.2Z" fill="#ffa200"/>
<path d="M552.2 178.2C551.6 178 548.9 177.1 546.5 176.4C544.1 175.7 535.6 172.4 532 171.8C528.4 171.2 519.2 170.6 515.6 170.9C512 171.2 504.4 173.1 501 174.6C497.6 176.1 489 181.2 486.4 183.7C483.8 186.2 479.8 193.4 479.1 196.4C478.4 199.4 479.2 206.3 480.1 209.1C481 211.9 484.4 217.9 486.4 220C488.4 222.1 494.4 226.1 497.4 227.3C500.4 228.5 508.3 230 511.9 230.1C515.5 230.2 524.3 229.2 528.3 228.2C532.3 227.2 543.7 222.9 546.5 221.9C549.3 220.9 551.5 220.2 552.2 219.9L557.7 219.9L557.7 170.4Z" fill="#ff6200"/>
<path d="M515.6 182.2C512.4 182.5 505.1 184.3 502.8 185.5C500.5 186.7 496.7 190.8 495.5 192.8C494.3 194.8 492.9 201.1 492.8 202.8C492.7 204.5 493.6 205.9 494.6 207.3C495.6 208.7 499 213.3 501 214.6C503 215.9 509.1 218 511.9 218.2C514.7 218.4 521.9 217.3 524.7 216.4C527.5 215.5 533.3 212.4 535.6 210.9C537.9 209.4 543.5 204.9 544.7 203.6C545.9 202.3 546.2 202 545.6 200.1C545 198.2 541.1 189.3 539.3 187.3C537.5 185.3 532.9 183.4 530.1 182.8C527.3 182.2 518.8 181.9 515.6 182.2Z" fill="#ff3600"/>
<path d="M395.4 162.2V290.2M408.4 162.2V290.2M421.5 162.2V290.2M434.6 162.2V290.2M447.7 162.2V290.2M460.7 162.2V290.2M473.8 162.2V290.2M486.9 162.2V290.2M499.9 162.2V290.2M513 162.2V290.2M526.1 162.2V290.2M539.2 162.2V290.2M382.3 202.6H545.7M382.3 226.2H545.7M382.3 243H545.7M382.3 256H545.7M382.3 266.6H545.7M382.3 275.6H545.7M382.3 283.3H545.7" stroke="#8a8a6a" stroke-opacity=".13" stroke-width=".5" fill="none" stroke-dasharray="1 1"/>
<path d="M446.7 157.7C446.2 158.5 444.9 160.5 443.4 162.7C441.9 164.9 440 167.7 437.9 170.9C435.8 174.1 432.7 178.9 430.6 181.9C428.5 184.9 426.7 186.1 425.2 189.1C423.7 192.1 422.3 196.4 421.5 200.1C420.7 203.8 420.8 207.8 420.6 211C420.5 214.2 420.6 215.5 420.6 219C420.6 222.5 420.6 227.4 420.6 232C420.6 236.6 420.8 242 420.6 246.6C420.5 251.2 419.9 256 419.7 259.3C419.5 262.6 419.1 264.3 419.7 266.6C420.3 268.9 421 271 423.4 273C425.8 275 430.1 277 434.3 278.4C438.6 279.8 443.8 280.7 448.9 281.5C453.9 282.3 459.9 282.6 464.6 283C469.3 283.4 473.7 283.4 477.3 283.9C480.9 284.3 484 284.9 486.4 285.7C488.8 286.5 490.7 287.8 491.9 288.5C493.1 289.2 492.4 289 493.4 290C494.4 291 496.9 293.5 497.6 294.2" fill="none" stroke="#9c3a14" stroke-width="1.3" stroke-dasharray="5.6 3.9"/>
</g>
<rect x="382.3" y="162.2" width="163.4" height="128" fill="none" stroke="#444" stroke-width=".7"/>
<text x="368.3" y="165.2" font-size="6.9" textLength="10.7" lengthAdjust="spacingAndGlyphs">100</text>
<text x="368.3" y="205.6" font-size="6.9" textLength="10.7" lengthAdjust="spacingAndGlyphs">200</text>
<text x="368.3" y="229.2" font-size="6.9" textLength="10.7" lengthAdjust="spacingAndGlyphs">300</text>
<text x="368.3" y="246" font-size="6.9" textLength="10.7" lengthAdjust="spacingAndGlyphs">400</text>
<text x="368.3" y="259" font-size="6.9" textLength="10.7" lengthAdjust="spacingAndGlyphs">500</text>
<text x="368.3" y="269.6" font-size="6.9" textLength="10.7" lengthAdjust="spacingAndGlyphs">600</text>
<text x="368.3" y="278.6" font-size="6.9" textLength="10.7" lengthAdjust="spacingAndGlyphs">700</text>
<text x="368.3" y="286.3" font-size="6.9" textLength="10.7" lengthAdjust="spacingAndGlyphs">800</text>
<text x="368.3" y="293.4" font-size="6.9" textLength="10.7" lengthAdjust="spacingAndGlyphs">900</text>
<text x="376.8" y="298.9" font-size="6.9" textLength="10.9" lengthAdjust="spacingAndGlyphs">20N</text>
<text x="389.8" y="298.9" font-size="6.9" textLength="10.9" lengthAdjust="spacingAndGlyphs">22N</text>
<text x="402.9" y="298.9" font-size="6.9" textLength="10.9" lengthAdjust="spacingAndGlyphs">24N</text>
<text x="416" y="298.9" font-size="6.9" textLength="10.9" lengthAdjust="spacingAndGlyphs">26N</text>
<text x="429" y="298.9" font-size="6.9" textLength="10.9" lengthAdjust="spacingAndGlyphs">28N</text>
<text x="442.1" y="298.9" font-size="6.9" textLength="10.9" lengthAdjust="spacingAndGlyphs">30N</text>
<text x="455.2" y="298.9" font-size="6.9" textLength="10.9" lengthAdjust="spacingAndGlyphs">32N</text>
<text x="468.3" y="298.9" font-size="6.9" textLength="10.9" lengthAdjust="spacingAndGlyphs">34N</text>
<text x="481.3" y="298.9" font-size="6.9" textLength="10.9" lengthAdjust="spacingAndGlyphs">36N</text>
<text x="494.4" y="298.9" font-size="6.9" textLength="10.9" lengthAdjust="spacingAndGlyphs">38N</text>
<text x="507.5" y="298.9" font-size="6.9" textLength="10.9" lengthAdjust="spacingAndGlyphs">40N</text>
<text x="520.5" y="298.9" font-size="6.9" textLength="10.9" lengthAdjust="spacingAndGlyphs">42N</text>
<text x="533.6" y="298.9" font-size="6.9" textLength="10.9" lengthAdjust="spacingAndGlyphs">44N</text>
<path d="M380.3 162.2H382.3M380.3 202.6H382.3M380.3 226.2H382.3M380.3 243H382.3M380.3 256H382.3M380.3 266.6H382.3M380.3 275.6H382.3M380.3 283.3H382.3M380.3 290.2H382.3M382.3 290.2V292M395.4 290.2V292M408.4 290.2V292M421.5 290.2V292M434.6 290.2V292M447.7 290.2V292M460.7 290.2V292M473.8 290.2V292M486.9 290.2V292M499.9 290.2V292M513 290.2V292M526.1 290.2V292M539.2 290.2V292" stroke="#444" stroke-width=".6" fill="none"/>
<text x="383.2" y="159.7" font-size="10.1" font-weight="bold" fill="#111" textLength="36.7" lengthAdjust="spacingAndGlyphs">(f) 120°E</text>
<rect x="143.6" y="307.3" width="24.1" height="6.3" fill="#24a4f7" stroke="#111" stroke-width=".7"/>
<rect x="167.7" y="307.3" width="24.1" height="6.3" fill="#4eb5f8" stroke="#111" stroke-width=".7"/>
<rect x="191.8" y="307.3" width="24.1" height="6.3" fill="#7ccefa" stroke="#111" stroke-width=".7"/>
<rect x="215.9" y="307.3" width="24.1" height="6.3" fill="#96ebfc" stroke="#111" stroke-width=".7"/>
<rect x="240" y="307.3" width="24.1" height="6.3" fill="#ffe878" stroke="#111" stroke-width=".7"/>
<rect x="264.1" y="307.3" width="24.1" height="6.3" fill="#ffc236" stroke="#111" stroke-width=".7"/>
<rect x="288.2" y="307.3" width="24.1" height="6.3" fill="#ffa200" stroke="#111" stroke-width=".7"/>
<rect x="312.3" y="307.3" width="24.1" height="6.3" fill="#ff6200" stroke="#111" stroke-width=".7"/>
<rect x="336.4" y="307.3" width="24.1" height="6.3" fill="#ff3600" stroke="#111" stroke-width=".7"/>
<rect x="360.5" y="307.3" width="24.1" height="6.3" fill="#fc1a04" stroke="#111" stroke-width=".7"/>
<polygon points="143.6,307.3 119.6,310.5 143.6,313.6" fill="#1898f0" stroke="#111" stroke-width=".7" stroke-linejoin="miter"/>
<polygon points="384.6,307.3 408.7,310.5 384.6,313.6" fill="#e40e0c" stroke="#111" stroke-width=".7"/>
<text x="143.6" y="320.2" text-anchor="middle" font-size="7" letter-spacing=".3" fill="#000" stroke="#000" stroke-width=".15">−20</text>
<text x="167.7" y="320.2" text-anchor="middle" font-size="7" letter-spacing=".3" fill="#000" stroke="#000" stroke-width=".15">−15</text>
<text x="191.8" y="320.2" text-anchor="middle" font-size="7" letter-spacing=".3" fill="#000" stroke="#000" stroke-width=".15">−10</text>
<text x="215.9" y="320.2" text-anchor="middle" font-size="7" letter-spacing=".3" fill="#000" stroke="#000" stroke-width=".15">−5</text>
<text x="240" y="320.2" text-anchor="middle" font-size="7" letter-spacing=".3" fill="#000" stroke="#000" stroke-width=".15">0</text>
<text x="264.1" y="320.2" text-anchor="middle" font-size="7" letter-spacing=".3" fill="#000" stroke="#000" stroke-width=".15">10</text>
<text x="288.2" y="320.2" text-anchor="middle" font-size="7" letter-spacing=".3" fill="#000" stroke="#000" stroke-width=".15">15</text>
<text x="312.3" y="320.2" text-anchor="middle" font-size="7" letter-spacing=".3" fill="#000" stroke="#000" stroke-width=".15">20</text>
<text x="336.4" y="320.2" text-anchor="middle" font-size="7" letter-spacing=".3" fill="#000" stroke="#000" stroke-width=".15">25</text>
<text x="360.5" y="320.2" text-anchor="middle" font-size="7" letter-spacing=".3" fill="#000" stroke="#000" stroke-width=".15">30</text>
<text x="384.6" y="320.2" text-anchor="middle" font-size="7" letter-spacing=".3" fill="#000" stroke="#000" stroke-width=".15">35</text>
</svg>
</body></html>
